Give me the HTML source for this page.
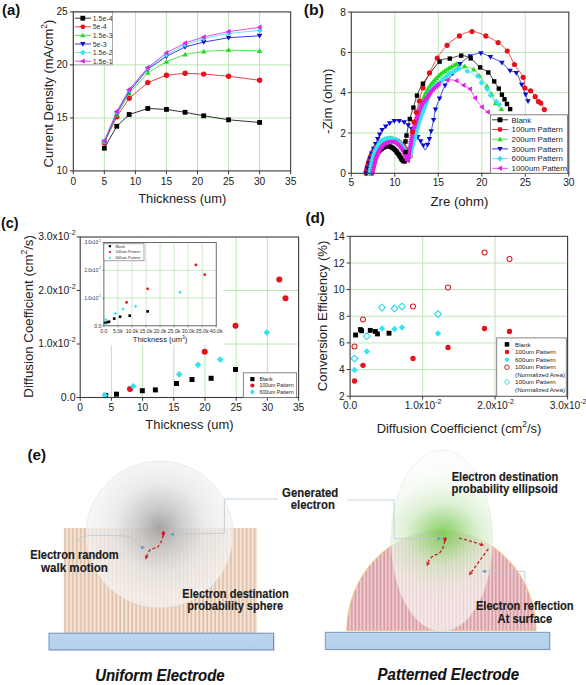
<!DOCTYPE html><html><head><meta charset="utf-8"><style>html,body{margin:0;padding:0;background:#fff;width:586px;height:685px;overflow:hidden}svg{display:block}</style></head><body>
<svg width="586" height="685" viewBox="0 0 586 685" font-family="Liberation Sans, sans-serif">
<rect width="586" height="685" fill="#fff"/>
<line x1="104.35" y1="11.90" x2="104.35" y2="170.90" stroke="#b6e3ae" stroke-width="0.9"/>
<line x1="135.40" y1="11.90" x2="135.40" y2="170.90" stroke="#b6e3ae" stroke-width="0.9"/>
<line x1="166.45" y1="11.90" x2="166.45" y2="170.90" stroke="#b6e3ae" stroke-width="0.9"/>
<line x1="197.50" y1="11.90" x2="197.50" y2="170.90" stroke="#b6e3ae" stroke-width="0.9"/>
<line x1="228.55" y1="11.90" x2="228.55" y2="170.90" stroke="#b6e3ae" stroke-width="0.9"/>
<line x1="259.60" y1="11.90" x2="259.60" y2="170.90" stroke="#b6e3ae" stroke-width="0.9"/>
<line x1="73.30" y1="117.90" x2="290.65" y2="117.90" stroke="#b6e3ae" stroke-width="0.9"/>
<line x1="73.30" y1="64.90" x2="290.65" y2="64.90" stroke="#b6e3ae" stroke-width="0.9"/>
<rect x="73.30" y="11.90" width="39.20" height="52.90" fill="#fff" stroke="#999" stroke-width="0.8"/>
<rect x="73.30" y="11.90" width="217.35" height="159.00" fill="none" stroke="#3a3a3a" stroke-width="1.1"/>
<line x1="69.80" y1="170.90" x2="73.30" y2="170.90" stroke="#3a3a3a" stroke-width="1"/>
<text x="67.80" y="174.40" font-size="10.2" text-anchor="end" fill="#222">10</text>
<line x1="69.80" y1="117.90" x2="73.30" y2="117.90" stroke="#3a3a3a" stroke-width="1"/>
<text x="67.80" y="121.40" font-size="10.2" text-anchor="end" fill="#222">15</text>
<line x1="69.80" y1="64.90" x2="73.30" y2="64.90" stroke="#3a3a3a" stroke-width="1"/>
<text x="67.80" y="68.40" font-size="10.2" text-anchor="end" fill="#222">20</text>
<line x1="69.80" y1="11.90" x2="73.30" y2="11.90" stroke="#3a3a3a" stroke-width="1"/>
<text x="67.80" y="15.40" font-size="10.2" text-anchor="end" fill="#222">25</text>
<line x1="73.30" y1="170.90" x2="73.30" y2="174.20" stroke="#3a3a3a" stroke-width="1"/>
<text x="73.30" y="184.90" font-size="10.2" text-anchor="middle" fill="#222">0</text>
<line x1="104.35" y1="170.90" x2="104.35" y2="174.20" stroke="#3a3a3a" stroke-width="1"/>
<text x="104.35" y="184.90" font-size="10.2" text-anchor="middle" fill="#222">5</text>
<line x1="135.40" y1="170.90" x2="135.40" y2="174.20" stroke="#3a3a3a" stroke-width="1"/>
<text x="135.40" y="184.90" font-size="10.2" text-anchor="middle" fill="#222">10</text>
<line x1="166.45" y1="170.90" x2="166.45" y2="174.20" stroke="#3a3a3a" stroke-width="1"/>
<text x="166.45" y="184.90" font-size="10.2" text-anchor="middle" fill="#222">15</text>
<line x1="197.50" y1="170.90" x2="197.50" y2="174.20" stroke="#3a3a3a" stroke-width="1"/>
<text x="197.50" y="184.90" font-size="10.2" text-anchor="middle" fill="#222">20</text>
<line x1="228.55" y1="170.90" x2="228.55" y2="174.20" stroke="#3a3a3a" stroke-width="1"/>
<text x="228.55" y="184.90" font-size="10.2" text-anchor="middle" fill="#222">25</text>
<line x1="259.60" y1="170.90" x2="259.60" y2="174.20" stroke="#3a3a3a" stroke-width="1"/>
<text x="259.60" y="184.90" font-size="10.2" text-anchor="middle" fill="#222">30</text>
<line x1="290.65" y1="170.90" x2="290.65" y2="174.20" stroke="#3a3a3a" stroke-width="1"/>
<text x="290.65" y="184.90" font-size="10.2" text-anchor="middle" fill="#222">35</text>
<text x="182.20" y="203.40" font-size="12.9" text-anchor="middle" fill="#222">Thickness (um)</text>
<g transform="translate(53.3,93.6) rotate(-90)"><text x="0.00" y="0.00" font-size="13.0" text-anchor="middle" fill="#222">Current Density (mA/cm<tspan font-size="8.4" dy="-6">2</tspan><tspan dy="6">)</tspan></text></g>
<text x="2.00" y="14.80" font-size="14.2" font-weight="bold" fill="#111" textLength="18.2" lengthAdjust="spacingAndGlyphs">(a)</text>
<polyline points="104.35,148.22 116.77,126.27 129.19,114.51 147.82,108.47 166.45,109.42 185.08,112.28 203.71,115.78 228.55,119.81 259.60,122.46" fill="none" stroke="#000000" stroke-width="0.8"/>
<rect x="101.95" y="145.82" width="4.80" height="4.80" fill="#000000"/>
<rect x="114.37" y="123.87" width="4.80" height="4.80" fill="#000000"/>
<rect x="126.79" y="112.11" width="4.80" height="4.80" fill="#000000"/>
<rect x="145.42" y="106.07" width="4.80" height="4.80" fill="#000000"/>
<rect x="164.05" y="107.02" width="4.80" height="4.80" fill="#000000"/>
<rect x="182.68" y="109.88" width="4.80" height="4.80" fill="#000000"/>
<rect x="201.31" y="113.38" width="4.80" height="4.80" fill="#000000"/>
<rect x="226.15" y="117.41" width="4.80" height="4.80" fill="#000000"/>
<rect x="257.20" y="120.06" width="4.80" height="4.80" fill="#000000"/>
<polyline points="104.35,142.70 116.77,116.73 129.19,98.29 147.82,82.60 166.45,75.18 185.08,73.27 203.71,74.12 228.55,76.24 259.60,80.27" fill="none" stroke="#e5111b" stroke-width="0.8"/>
<circle cx="104.35" cy="142.70" r="2.70" fill="#e5111b"/>
<circle cx="116.77" cy="116.73" r="2.70" fill="#e5111b"/>
<circle cx="129.19" cy="98.29" r="2.70" fill="#e5111b"/>
<circle cx="147.82" cy="82.60" r="2.70" fill="#e5111b"/>
<circle cx="166.45" cy="75.18" r="2.70" fill="#e5111b"/>
<circle cx="185.08" cy="73.27" r="2.70" fill="#e5111b"/>
<circle cx="203.71" cy="74.12" r="2.70" fill="#e5111b"/>
<circle cx="228.55" cy="76.24" r="2.70" fill="#e5111b"/>
<circle cx="259.60" cy="80.27" r="2.70" fill="#e5111b"/>
<polyline points="104.35,142.07 116.77,114.72 129.19,93.52 147.82,72.85 166.45,61.72 185.08,54.41 203.71,51.44 228.55,50.06 259.60,50.91" fill="none" stroke="#22dd22" stroke-width="0.8"/>
<path d="M104.35 139.32L107.10 144.07L101.60 144.07Z" fill="#22dd22"/>
<path d="M116.77 111.97L119.52 116.72L114.02 116.72Z" fill="#22dd22"/>
<path d="M129.19 90.77L131.94 95.52L126.44 95.52Z" fill="#22dd22"/>
<path d="M147.82 70.10L150.57 74.85L145.07 74.85Z" fill="#22dd22"/>
<path d="M166.45 58.97L169.20 63.72L163.70 63.72Z" fill="#22dd22"/>
<path d="M185.08 51.66L187.83 56.41L182.33 56.41Z" fill="#22dd22"/>
<path d="M203.71 48.69L206.46 53.44L200.96 53.44Z" fill="#22dd22"/>
<path d="M228.55 47.31L231.30 52.06L225.80 52.06Z" fill="#22dd22"/>
<path d="M259.60 48.16L262.35 52.91L256.85 52.91Z" fill="#22dd22"/>
<polyline points="104.35,141.75 116.77,113.13 129.19,91.40 147.82,69.14 166.45,56.42 185.08,46.99 203.71,42.11 228.55,37.76 259.60,35.75" fill="none" stroke="#0a0ad0" stroke-width="0.8"/>
<path d="M104.35 144.50L107.10 139.75L101.60 139.75Z" fill="#0a0ad0"/>
<path d="M116.77 115.88L119.52 111.13L114.02 111.13Z" fill="#0a0ad0"/>
<path d="M129.19 94.15L131.94 89.40L126.44 89.40Z" fill="#0a0ad0"/>
<path d="M147.82 71.89L150.57 67.14L145.07 67.14Z" fill="#0a0ad0"/>
<path d="M166.45 59.17L169.20 54.42L163.70 54.42Z" fill="#0a0ad0"/>
<path d="M185.08 49.74L187.83 44.99L182.33 44.99Z" fill="#0a0ad0"/>
<path d="M203.71 44.86L206.46 40.11L200.96 40.11Z" fill="#0a0ad0"/>
<path d="M228.55 40.51L231.30 35.76L225.80 35.76Z" fill="#0a0ad0"/>
<path d="M259.60 38.50L262.35 33.75L256.85 33.75Z" fill="#0a0ad0"/>
<polyline points="104.35,141.22 116.77,112.07 129.19,90.13 147.82,68.08 166.45,54.83 185.08,44.76 203.71,38.61 228.55,33.42 259.60,30.45" fill="none" stroke="#33e3ef" stroke-width="0.8"/>
<path d="M104.35 138.34L107.23 141.22L104.35 144.10L101.47 141.22Z" fill="#33e3ef"/>
<path d="M116.77 109.19L119.65 112.07L116.77 114.95L113.89 112.07Z" fill="#33e3ef"/>
<path d="M129.19 87.25L132.07 90.13L129.19 93.01L126.31 90.13Z" fill="#33e3ef"/>
<path d="M147.82 65.20L150.70 68.08L147.82 70.96L144.94 68.08Z" fill="#33e3ef"/>
<path d="M166.45 51.95L169.33 54.83L166.45 57.71L163.57 54.83Z" fill="#33e3ef"/>
<path d="M185.08 41.88L187.96 44.76L185.08 47.64L182.20 44.76Z" fill="#33e3ef"/>
<path d="M203.71 35.73L206.59 38.61L203.71 41.49L200.83 38.61Z" fill="#33e3ef"/>
<path d="M228.55 30.54L231.43 33.42L228.55 36.30L225.67 33.42Z" fill="#33e3ef"/>
<path d="M259.60 27.57L262.48 30.45L259.60 33.33L256.72 30.45Z" fill="#33e3ef"/>
<polyline points="104.35,141.11 116.77,111.43 129.19,89.49 147.82,67.55 166.45,52.71 185.08,43.06 203.71,36.92 228.55,31.62 259.60,27.27" fill="none" stroke="#e020e8" stroke-width="0.8"/>
<path d="M101.60 141.11L106.35 138.36L106.35 143.86Z" fill="#e020e8"/>
<path d="M114.02 111.43L118.77 108.68L118.77 114.18Z" fill="#e020e8"/>
<path d="M126.44 89.49L131.19 86.74L131.19 92.24Z" fill="#e020e8"/>
<path d="M145.07 67.55L149.82 64.80L149.82 70.30Z" fill="#e020e8"/>
<path d="M163.70 52.71L168.45 49.96L168.45 55.46Z" fill="#e020e8"/>
<path d="M182.33 43.06L187.08 40.31L187.08 45.81Z" fill="#e020e8"/>
<path d="M200.96 36.92L205.71 34.17L205.71 39.67Z" fill="#e020e8"/>
<path d="M225.80 31.62L230.55 28.87L230.55 34.37Z" fill="#e020e8"/>
<path d="M256.85 27.27L261.60 24.52L261.60 30.02Z" fill="#e020e8"/>
<line x1="74.9" y1="18.20" x2="91" y2="18.20" stroke="#000000" stroke-width="0.8"/>
<rect x="80.40" y="15.80" width="4.80" height="4.80" fill="#000000"/>
<text x="92.70" y="20.70" font-size="7.0" fill="#333">1.5e-4</text>
<line x1="74.9" y1="26.80" x2="91" y2="26.80" stroke="#e5111b" stroke-width="0.8"/>
<circle cx="82.80" cy="26.80" r="2.40" fill="#e5111b"/>
<text x="92.70" y="29.30" font-size="7.0" fill="#333">5e-4</text>
<line x1="74.9" y1="35.40" x2="91" y2="35.40" stroke="#22dd22" stroke-width="0.8"/>
<path d="M82.80 32.76L85.44 37.32L80.16 37.32Z" fill="#22dd22"/>
<text x="92.70" y="37.90" font-size="7.0" fill="#333">1.5e-3</text>
<line x1="74.9" y1="44.00" x2="91" y2="44.00" stroke="#0a0ad0" stroke-width="0.8"/>
<path d="M82.80 46.64L85.44 42.08L80.16 42.08Z" fill="#0a0ad0"/>
<text x="92.70" y="46.50" font-size="7.0" fill="#333">5e-3</text>
<line x1="74.9" y1="52.60" x2="91" y2="52.60" stroke="#33e3ef" stroke-width="0.8"/>
<path d="M82.80 49.72L85.68 52.60L82.80 55.48L79.92 52.60Z" fill="#33e3ef"/>
<text x="92.70" y="55.10" font-size="7.0" fill="#333">1.5e-2</text>
<line x1="74.9" y1="61.20" x2="91" y2="61.20" stroke="#e020e8" stroke-width="0.8"/>
<path d="M80.16 61.20L84.72 58.56L84.72 63.84Z" fill="#e020e8"/>
<text x="92.70" y="63.70" font-size="7.0" fill="#333">1.5e-1</text>
<line x1="394.80" y1="12.10" x2="394.80" y2="173.30" stroke="#b6e3ae" stroke-width="0.9"/>
<line x1="438.30" y1="12.10" x2="438.30" y2="173.30" stroke="#b6e3ae" stroke-width="0.9"/>
<line x1="481.80" y1="12.10" x2="481.80" y2="173.30" stroke="#b6e3ae" stroke-width="0.9"/>
<line x1="525.30" y1="12.10" x2="525.30" y2="173.30" stroke="#b6e3ae" stroke-width="0.9"/>
<line x1="351.30" y1="133.00" x2="568.80" y2="133.00" stroke="#b6e3ae" stroke-width="0.9"/>
<line x1="351.30" y1="92.70" x2="568.80" y2="92.70" stroke="#b6e3ae" stroke-width="0.9"/>
<line x1="351.30" y1="52.40" x2="568.80" y2="52.40" stroke="#b6e3ae" stroke-width="0.9"/>
<line x1="347.80" y1="173.30" x2="351.30" y2="173.30" stroke="#3a3a3a" stroke-width="1"/>
<text x="345.80" y="176.80" font-size="10.2" text-anchor="end" fill="#222">0</text>
<line x1="347.80" y1="133.00" x2="351.30" y2="133.00" stroke="#3a3a3a" stroke-width="1"/>
<text x="345.80" y="136.50" font-size="10.2" text-anchor="end" fill="#222">2</text>
<line x1="347.80" y1="92.70" x2="351.30" y2="92.70" stroke="#3a3a3a" stroke-width="1"/>
<text x="345.80" y="96.20" font-size="10.2" text-anchor="end" fill="#222">4</text>
<line x1="347.80" y1="52.40" x2="351.30" y2="52.40" stroke="#3a3a3a" stroke-width="1"/>
<text x="345.80" y="55.90" font-size="10.2" text-anchor="end" fill="#222">6</text>
<line x1="347.80" y1="12.10" x2="351.30" y2="12.10" stroke="#3a3a3a" stroke-width="1"/>
<text x="345.80" y="15.60" font-size="10.2" text-anchor="end" fill="#222">8</text>
<line x1="351.30" y1="173.30" x2="351.30" y2="176.60" stroke="#3a3a3a" stroke-width="1"/>
<text x="351.30" y="185.90" font-size="10.2" text-anchor="middle" fill="#222">5</text>
<line x1="394.80" y1="173.30" x2="394.80" y2="176.60" stroke="#3a3a3a" stroke-width="1"/>
<text x="394.80" y="185.90" font-size="10.2" text-anchor="middle" fill="#222">10</text>
<line x1="438.30" y1="173.30" x2="438.30" y2="176.60" stroke="#3a3a3a" stroke-width="1"/>
<text x="438.30" y="185.90" font-size="10.2" text-anchor="middle" fill="#222">15</text>
<line x1="481.80" y1="173.30" x2="481.80" y2="176.60" stroke="#3a3a3a" stroke-width="1"/>
<text x="481.80" y="185.90" font-size="10.2" text-anchor="middle" fill="#222">20</text>
<line x1="525.30" y1="173.30" x2="525.30" y2="176.60" stroke="#3a3a3a" stroke-width="1"/>
<text x="525.30" y="185.90" font-size="10.2" text-anchor="middle" fill="#222">25</text>
<line x1="568.80" y1="173.30" x2="568.80" y2="176.60" stroke="#3a3a3a" stroke-width="1"/>
<text x="568.80" y="185.90" font-size="10.2" text-anchor="middle" fill="#222">30</text>
<text x="459.40" y="205.50" font-size="13.2" text-anchor="middle" fill="#222">Zre (ohm)</text>
<g transform="translate(331.9,101.3) rotate(-90)"><text x="0.00" y="0.00" font-size="13.4" text-anchor="middle" fill="#222">-Zim (ohm)</text></g>
<text x="303.80" y="14.60" font-size="14.2" font-weight="bold" fill="#111" textLength="20.2" lengthAdjust="spacingAndGlyphs">(b)</text>
<g>
<polyline points="369.00,173.30 369.12,172.75 369.27,172.06 369.44,171.24 369.63,170.32 369.84,169.33 370.06,168.28 370.30,167.19 370.54,166.09 370.78,165.00 371.03,163.94 371.27,162.93 371.50,162.00 371.73,161.12 371.95,160.25 372.17,159.39 372.39,158.53 372.61,157.69 372.84,156.86 373.08,156.03 373.33,155.21 373.60,154.40 373.88,153.59 374.18,152.79 374.50,152.00 374.84,151.20 375.20,150.39 375.57,149.57 375.96,148.76 376.37,147.95 376.78,147.16 377.21,146.38 377.65,145.63 378.10,144.91 378.56,144.23 379.02,143.59 379.50,143.00 379.99,142.45 380.49,141.94 381.01,141.45 381.54,141.00 382.08,140.58 382.62,140.19 383.18,139.83 383.74,139.50 384.30,139.20 384.87,138.94 385.44,138.70 386.00,138.50 386.57,138.33 387.14,138.19 387.71,138.09 388.30,138.02 388.88,137.98 389.47,137.97 390.06,137.99 390.65,138.04 391.24,138.11 391.83,138.22 392.42,138.35 393.00,138.50 393.59,138.68 394.19,138.90 394.80,139.15 395.41,139.43 396.02,139.73 396.62,140.06 397.23,140.42 397.81,140.80 398.39,141.20 398.95,141.61 399.49,142.05 400.00,142.50 400.49,142.98 400.96,143.49 401.41,144.03 401.85,144.59 402.28,145.18 402.69,145.78 403.09,146.40 403.48,147.02 403.87,147.64 404.25,148.27 404.62,148.89 405.00,149.50 405.38,150.15 405.76,150.89 406.14,151.68 406.52,152.50 406.89,153.32 407.25,154.12 407.60,154.88 407.93,155.56 408.23,156.13 408.52,156.58 408.77,156.88 409.00,157.00 409.19,156.93 409.33,156.68 409.44,156.29 409.52,155.78 409.58,155.16 409.62,154.47 409.66,153.72 409.70,152.94 409.75,152.16 409.81,151.39 409.89,150.66 410.00,150.00 410.13,149.37 410.28,148.75 410.43,148.12 410.59,147.48 410.76,146.84 410.94,146.19 411.12,145.53 411.30,144.85 411.48,144.16 411.66,143.46 411.83,142.74 412.00,142.00 412.17,141.24 412.33,140.46 412.49,139.66 412.65,138.85 412.81,138.03 412.97,137.19 413.13,136.34 413.30,135.48 413.46,134.62 413.64,133.75 413.82,132.87 414.00,132.00 414.19,131.12 414.38,130.22 414.58,129.32 414.78,128.41 414.98,127.49 415.19,126.56 415.40,125.63 415.61,124.70 415.83,123.77 416.05,122.84 416.27,121.92 416.50,121.00 416.73,120.09 416.96,119.18 417.19,118.27 417.43,117.37 417.66,116.47 417.91,115.56 418.15,114.65 418.41,113.74 418.67,112.82 418.94,111.89 419.21,110.95 419.50,110.00 419.79,109.03 420.09,108.04 420.40,107.04 420.71,106.03 421.02,105.01 421.35,103.98 421.68,102.96 422.03,101.94 422.38,100.93 422.74,99.94 423.11,98.96 423.50,98.00 423.89,97.06 424.28,96.14 424.68,95.22 425.09,94.32 425.50,93.42 425.93,92.54 426.37,91.66 426.83,90.78 427.31,89.91 427.81,89.04 428.34,88.17 428.90,87.30 429.49,86.42 430.12,85.54 430.78,84.64 431.46,83.75 432.16,82.86 432.88,81.98 433.61,81.11 434.35,80.26 435.09,79.43 435.84,78.62 436.57,77.84 437.30,77.10 438.02,76.39 438.74,75.71 439.46,75.06 440.18,74.43 440.91,73.82 441.64,73.23 442.37,72.66 443.12,72.09 443.87,71.54 444.64,70.99 445.41,70.44 446.20,69.90 447.01,69.34 447.85,68.75 448.70,68.14 449.57,67.53 450.45,66.93 451.34,66.36 452.22,65.81 453.09,65.31 453.95,64.87 454.79,64.49 455.61,64.20 456.40,64.00 457.16,63.90 457.89,63.90 458.59,63.98 459.28,64.13 459.96,64.34 460.62,64.59 461.29,64.87 461.95,65.17 462.62,65.48 463.30,65.78 463.99,66.05 464.70,66.30 465.44,66.52 466.20,66.73 466.98,66.94 467.77,67.15 468.57,67.37 469.36,67.59 470.15,67.83 470.92,68.09 471.67,68.37 472.38,68.68 473.06,69.02 473.70,69.40 474.28,69.81 474.82,70.23 475.31,70.68 475.77,71.15 476.21,71.64 476.64,72.16 477.06,72.70 477.48,73.26 477.92,73.86 478.38,74.48 478.87,75.12 479.40,75.80 479.98,76.52 480.59,77.30 481.23,78.13 481.90,78.99 482.58,79.88 483.26,80.79 483.94,81.70 484.61,82.61 485.26,83.50 485.88,84.37 486.46,85.21 487.00,86.00 487.50,86.75 487.96,87.47 488.40,88.17 488.81,88.85 489.21,89.52 489.59,90.17 489.95,90.83 490.31,91.48 490.66,92.14 491.00,92.81 491.35,93.50 491.70,94.20 492.04,94.93 492.36,95.69 492.66,96.47 492.96,97.26 493.24,98.05 493.52,98.84 493.81,99.63 494.11,100.40 494.42,101.15 494.76,101.87 495.11,102.56 495.50,103.20 495.94,103.82 496.43,104.43 496.97,105.03 497.53,105.61 498.11,106.18 498.69,106.71 499.25,107.22 499.79,107.69 500.29,108.11 500.73,108.49 501.11,108.82 501.40,109.10" fill="none" stroke="#22dd22" stroke-width="0.8"/>
<polyline points="366.00,173.30 366.12,172.80 366.26,172.18 366.42,171.44 366.60,170.62 366.80,169.72 367.01,168.78 367.24,167.79 367.48,166.79 367.72,165.80 367.98,164.82 368.24,163.88 368.50,163.00 368.77,162.15 369.04,161.29 369.33,160.43 369.62,159.57 369.92,158.71 370.23,157.86 370.55,157.01 370.88,156.17 371.22,155.35 371.57,154.55 371.93,153.76 372.30,153.00 372.68,152.25 373.07,151.51 373.47,150.78 373.88,150.06 374.30,149.35 374.73,148.66 375.17,147.98 375.62,147.33 376.08,146.71 376.54,146.11 377.02,145.54 377.50,145.00 377.99,144.49 378.49,144.01 379.00,143.55 379.51,143.11 380.04,142.70 380.57,142.31 381.12,141.95 381.67,141.61 382.24,141.30 382.81,141.01 383.40,140.74 384.00,140.50 384.62,140.28 385.26,140.09 385.92,139.92 386.59,139.78 387.28,139.66 387.97,139.56 388.66,139.49 389.35,139.44 390.04,139.42 390.71,139.42 391.36,139.45 392.00,139.50 392.62,139.57 393.24,139.67 393.86,139.80 394.46,139.94 395.06,140.12 395.66,140.31 396.24,140.53 396.81,140.78 397.38,141.05 397.93,141.34 398.47,141.66 399.00,142.00 399.52,142.38 400.02,142.80 400.52,143.25 401.00,143.74 401.47,144.25 401.94,144.78 402.39,145.32 402.83,145.87 403.27,146.42 403.69,146.96 404.10,147.49 404.50,148.00 404.89,148.51 405.28,149.03 405.65,149.57 406.02,150.11 406.37,150.65 406.72,151.19 407.05,151.71 407.37,152.22 407.68,152.71 407.97,153.17 408.24,153.61 408.50,154.00 408.74,154.44 408.95,155.00 409.14,155.62 409.31,156.26 409.48,156.88 409.62,157.44 409.77,157.89 409.91,158.19 410.05,158.29 410.19,158.16 410.34,157.74 410.50,157.00 410.67,155.85 410.84,154.28 411.01,152.37 411.19,150.19 411.36,147.81 411.53,145.31 411.70,142.77 411.87,140.26 412.04,137.85 412.20,135.62 412.35,133.65 412.50,132.00 412.64,130.64 412.77,129.46 412.89,128.44 413.01,127.54 413.12,126.75 413.23,126.04 413.34,125.39 413.46,124.76 413.58,124.13 413.71,123.48 413.85,122.78 414.00,122.00 414.16,121.19 414.33,120.38 414.50,119.59 414.68,118.80 414.87,118.02 415.06,117.23 415.25,116.44 415.45,115.64 415.66,114.83 415.87,114.01 416.08,113.16 416.30,112.30 416.52,111.42 416.75,110.53 416.99,109.63 417.23,108.72 417.47,107.80 417.72,106.86 417.97,105.92 418.23,104.96 418.49,103.99 418.76,103.01 419.03,102.01 419.30,101.00 419.57,99.98 419.83,98.94 420.09,97.90 420.34,96.84 420.61,95.77 420.88,94.68 421.16,93.58 421.46,92.47 421.78,91.35 422.12,90.21 422.49,89.06 422.90,87.90 423.34,86.72 423.81,85.51 424.31,84.28 424.83,83.04 425.38,81.78 425.94,80.51 426.51,79.24 427.10,77.96 427.70,76.69 428.30,75.42 428.90,74.15 429.50,72.90 430.10,71.65 430.71,70.39 431.32,69.12 431.94,67.84 432.56,66.57 433.20,65.31 433.85,64.05 434.51,62.80 435.18,61.57 435.87,60.35 436.58,59.16 437.30,58.00 438.04,56.85 438.79,55.72 439.55,54.59 440.33,53.48 441.11,52.39 441.92,51.31 442.74,50.25 443.57,49.21 444.43,48.19 445.30,47.20 446.19,46.24 447.10,45.30 448.04,44.39 449.00,43.48 449.99,42.60 451.00,41.74 452.03,40.90 453.07,40.08 454.13,39.30 455.19,38.54 456.25,37.82 457.30,37.14 458.36,36.50 459.40,35.90 460.44,35.33 461.47,34.78 462.50,34.24 463.53,33.74 464.57,33.27 465.61,32.84 466.65,32.46 467.70,32.13 468.76,31.86 469.83,31.67 470.91,31.54 472.00,31.50 473.11,31.55 474.25,31.70 475.40,31.93 476.57,32.23 477.74,32.59 478.92,33.01 480.10,33.46 481.27,33.94 482.43,34.43 483.57,34.93 484.70,35.42 485.80,35.90 486.89,36.37 487.97,36.86 489.05,37.37 490.13,37.90 491.19,38.44 492.24,39.00 493.27,39.57 494.29,40.16 495.28,40.75 496.25,41.36 497.19,41.97 498.10,42.60 498.98,43.22 499.84,43.84 500.66,44.46 501.47,45.09 502.25,45.72 503.02,46.38 503.77,47.05 504.50,47.76 505.21,48.50 505.92,49.29 506.61,50.12 507.30,51.00 507.97,51.95 508.60,52.96 509.21,54.03 509.79,55.15 510.37,56.30 510.93,57.48 511.49,58.67 512.06,59.86 512.64,61.05 513.24,62.23 513.85,63.38 514.50,64.50 515.19,65.60 515.94,66.70 516.73,67.80 517.55,68.90 518.37,69.99 519.19,71.07 520.00,72.15 520.76,73.21 521.48,74.26 522.14,75.30 522.72,76.31 523.20,77.30 523.57,78.29 523.84,79.30 524.02,80.31 524.14,81.31 524.20,82.31 524.24,83.28 524.26,84.21 524.30,85.10 524.36,85.93 524.47,86.70 524.64,87.39 524.90,88.00 525.24,88.50 525.63,88.89 526.07,89.18 526.54,89.40 527.05,89.57 527.57,89.70 528.10,89.81 528.63,89.93 529.16,90.07 529.67,90.25 530.15,90.48 530.60,90.80 531.03,91.19 531.45,91.62 531.86,92.08 532.27,92.58 532.67,93.09 533.06,93.62 533.44,94.16 533.81,94.70 534.17,95.23 534.53,95.74 534.87,96.24 535.20,96.70 535.52,97.15 535.82,97.60 536.12,98.05 536.40,98.50 536.67,98.94 536.94,99.37 537.19,99.78 537.44,100.18 537.69,100.55 537.93,100.90 538.17,101.22 538.40,101.50 538.62,101.73 538.83,101.90 539.03,102.01 539.21,102.09 539.40,102.15 539.57,102.19 539.76,102.25 539.94,102.32 540.13,102.43 540.34,102.59 540.56,102.81 540.80,103.10 541.07,103.49 541.37,103.97 541.70,104.53 542.04,105.14 542.40,105.79 542.75,106.45 543.09,107.10 543.42,107.73 543.73,108.32 543.99,108.84 544.22,109.27 544.40,109.60" fill="none" stroke="#e5111b" stroke-width="0.8"/>
<polyline points="371.00,173.30 371.12,172.80 371.26,172.16 371.43,171.42 371.61,170.58 371.81,169.67 372.03,168.71 372.26,167.72 372.50,166.72 372.75,165.73 373.00,164.76 373.25,163.85 373.50,163.00 373.75,162.19 374.01,161.38 374.27,160.58 374.54,159.77 374.81,158.98 375.09,158.20 375.38,157.44 375.69,156.69 376.00,155.97 376.32,155.28 376.65,154.62 377.00,154.00 377.36,153.41 377.73,152.85 378.12,152.31 378.52,151.80 378.93,151.31 379.34,150.84 379.77,150.40 380.20,149.98 380.64,149.58 381.09,149.20 381.54,148.84 382.00,148.50 382.46,148.17 382.94,147.85 383.43,147.54 383.93,147.24 384.43,146.97 384.94,146.72 385.45,146.50 385.96,146.31 386.48,146.17 386.99,146.06 387.50,146.01 388.00,146.00 388.50,146.05 389.01,146.15 389.52,146.29 390.04,146.48 390.55,146.71 391.06,146.97 391.57,147.26 392.07,147.57 392.57,147.91 393.06,148.26 393.54,148.63 394.00,149.00 394.46,149.40 394.91,149.83 395.36,150.30 395.80,150.80 396.23,151.31 396.66,151.84 397.07,152.38 397.48,152.93 397.88,153.46 398.27,153.99 398.64,154.51 399.00,155.00 399.35,155.49 399.68,156.00 400.00,156.52 400.31,157.04 400.62,157.55 400.91,158.06 401.19,158.55 401.46,159.02 401.73,159.45 401.99,159.85 402.25,160.20 402.50,160.50 402.75,160.77 403.00,161.05 403.24,161.31 403.48,161.56 403.71,161.77 403.94,161.94 404.15,162.06 404.35,162.11 404.54,162.09 404.71,161.99 404.86,161.80 405.00,161.50 405.11,161.08 405.20,160.54 405.28,159.89 405.33,159.15 405.38,158.34 405.41,157.47 405.43,156.56 405.44,155.63 405.46,154.69 405.47,153.76 405.48,152.86 405.50,152.00 405.51,151.15 405.52,150.26 405.51,149.34 405.50,148.41 405.48,147.47 405.47,146.53 405.45,145.61 405.44,144.70 405.44,143.83 405.45,143.00 405.47,142.22 405.50,141.50 405.54,140.88 405.58,140.36 405.63,139.93 405.67,139.56 405.73,139.21 405.79,138.88 405.87,138.52 405.96,138.11 406.06,137.63 406.19,137.06 406.33,136.35 406.50,135.50 406.69,134.48 406.91,133.30 407.16,131.99 407.42,130.59 407.70,129.11 407.99,127.59 408.29,126.05 408.59,124.51 408.90,123.01 409.21,121.58 409.51,120.23 409.80,119.00 410.09,117.87 410.38,116.81 410.68,115.81 410.98,114.84 411.28,113.92 411.58,113.02 411.88,112.13 412.19,111.26 412.49,110.37 412.80,109.48 413.10,108.55 413.40,107.60 413.69,106.62 413.97,105.63 414.25,104.64 414.51,103.64 414.78,102.64 415.06,101.63 415.34,100.62 415.63,99.61 415.94,98.61 416.27,97.60 416.62,96.60 417.00,95.60 417.38,94.64 417.73,93.73 418.06,92.86 418.40,92.00 418.75,91.15 419.13,90.28 419.56,89.38 420.05,88.42 420.61,87.39 421.27,86.27 422.02,85.05 422.90,83.70 423.93,82.15 425.13,80.39 426.47,78.44 427.91,76.38 429.42,74.25 430.98,72.09 432.56,69.97 434.11,67.93 435.63,66.02 437.07,64.30 438.40,62.81 439.60,61.60 440.67,60.68 441.66,59.99 442.58,59.51 443.44,59.19 444.25,59.00 445.03,58.91 445.79,58.88 446.55,58.89 447.32,58.90 448.11,58.88 448.93,58.79 449.80,58.60 450.71,58.33 451.65,58.03 452.61,57.71 453.58,57.39 454.56,57.06 455.54,56.74 456.52,56.44 457.50,56.17 458.46,55.94 459.40,55.76 460.31,55.65 461.20,55.60 462.06,55.61 462.89,55.66 463.71,55.75 464.51,55.87 465.30,56.04 466.07,56.25 466.84,56.50 467.61,56.79 468.38,57.13 469.14,57.51 469.92,57.93 470.70,58.40 471.49,58.95 472.29,59.59 473.09,60.31 473.89,61.09 474.68,61.91 475.48,62.76 476.27,63.61 477.06,64.46 477.84,65.28 478.60,66.05 479.36,66.77 480.10,67.40 480.83,67.95 481.56,68.43 482.29,68.86 483.01,69.25 483.72,69.61 484.42,69.96 485.11,70.30 485.78,70.66 486.44,71.05 487.08,71.48 487.70,71.95 488.30,72.50 488.88,73.11 489.43,73.78 489.97,74.50 490.49,75.25 490.99,76.03 491.47,76.82 491.95,77.62 492.41,78.42 492.87,79.21 493.32,79.97 493.76,80.71 494.20,81.40 494.63,82.06 495.06,82.71 495.48,83.35 495.89,83.97 496.28,84.58 496.68,85.18 497.06,85.76 497.43,86.34 497.79,86.92 498.14,87.48 498.47,88.04 498.80,88.60 499.11,89.15 499.41,89.70 499.69,90.24 499.96,90.77 500.22,91.30 500.48,91.81 500.72,92.32 500.96,92.82 501.20,93.31 501.43,93.78 501.66,94.25 501.90,94.70 502.13,95.14 502.36,95.55 502.59,95.95 502.81,96.34 503.02,96.72 503.24,97.09 503.45,97.45 503.66,97.81 503.87,98.18 504.08,98.54 504.29,98.92 504.50,99.30 504.71,99.69 504.92,100.07 505.12,100.46 505.32,100.84 505.52,101.23 505.72,101.62 505.92,102.01 506.13,102.40 506.34,102.79 506.55,103.19 506.77,103.59 507.00,104.00 507.25,104.43 507.52,104.89 507.81,105.37 508.10,105.86 508.41,106.35 508.71,106.84 509.00,107.32 509.27,107.76 509.53,108.17 509.76,108.54 509.95,108.85 510.10,109.10" fill="none" stroke="#000000" stroke-width="0.8"/>
<polyline points="366.20,173.30 366.30,172.90 366.42,172.41 366.56,171.83 366.72,171.17 366.90,170.47 367.08,169.71 367.28,168.93 367.48,168.13 367.68,167.32 367.89,166.52 368.10,165.74 368.30,165.00 368.50,164.27 368.71,163.53 368.93,162.78 369.14,162.01 369.37,161.25 369.59,160.48 369.82,159.71 370.06,158.95 370.29,158.20 370.53,157.45 370.76,156.72 371.00,156.00 371.24,155.30 371.48,154.61 371.72,153.92 371.97,153.25 372.22,152.58 372.47,151.92 372.72,151.26 372.97,150.61 373.23,149.96 373.48,149.30 373.74,148.65 374.00,148.00 374.26,147.35 374.51,146.72 374.76,146.09 375.01,145.47 375.26,144.85 375.52,144.23 375.78,143.61 376.04,142.97 376.32,142.33 376.60,141.67 376.89,141.00 377.20,140.30 377.52,139.57 377.84,138.80 378.18,137.99 378.52,137.17 378.87,136.33 379.23,135.49 379.60,134.67 379.97,133.86 380.34,133.07 380.72,132.33 381.11,131.64 381.50,131.00 381.90,130.42 382.30,129.88 382.72,129.38 383.14,128.91 383.57,128.47 384.00,128.05 384.43,127.65 384.87,127.27 385.31,126.90 385.74,126.53 386.17,126.17 386.60,125.80 387.03,125.43 387.45,125.07 387.88,124.72 388.30,124.37 388.73,124.04 389.15,123.71 389.58,123.40 390.00,123.11 390.43,122.83 390.85,122.57 391.28,122.32 391.70,122.10 392.12,121.90 392.55,121.71 392.97,121.53 393.40,121.38 393.82,121.24 394.25,121.11 394.68,121.00 395.10,120.91 395.52,120.83 395.95,120.77 396.37,120.73 396.80,120.70 397.23,120.69 397.66,120.71 398.09,120.74 398.53,120.80 398.97,120.87 399.40,120.96 399.83,121.05 400.26,121.16 400.68,121.26 401.10,121.38 401.50,121.49 401.90,121.60 402.29,121.71 402.67,121.82 403.05,121.93 403.43,122.04 403.79,122.17 404.16,122.29 404.51,122.43 404.86,122.58 405.21,122.74 405.54,122.91 405.88,123.10 406.20,123.30 406.51,123.52 406.81,123.76 407.10,124.01 407.38,124.27 407.66,124.55 407.92,124.84 408.19,125.13 408.46,125.44 408.74,125.75 409.01,126.06 409.30,126.38 409.60,126.70 409.90,127.02 410.21,127.33 410.52,127.65 410.83,127.97 411.14,128.29 411.46,128.62 411.79,128.97 412.11,129.33 412.45,129.71 412.79,130.12 413.14,130.54 413.50,131.00 413.87,131.49 414.25,132.02 414.65,132.58 415.06,133.17 415.47,133.78 415.88,134.39 416.30,135.02 416.71,135.64 417.12,136.26 417.52,136.86 417.92,137.44 418.30,138.00 418.68,138.54 419.05,139.06 419.43,139.57 419.80,140.07 420.17,140.57 420.54,141.06 420.89,141.55 421.24,142.04 421.58,142.52 421.90,143.01 422.21,143.50 422.50,144.00 422.77,144.54 423.03,145.13 423.26,145.76 423.49,146.41 423.70,147.07 423.91,147.70 424.10,148.29 424.30,148.83 424.49,149.29 424.69,149.65 424.89,149.89 425.10,150.00 425.31,149.96 425.53,149.79 425.75,149.50 425.97,149.12 426.18,148.66 426.40,148.14 426.61,147.58 426.82,147.00 427.03,146.41 427.23,145.84 427.42,145.29 427.60,144.80 427.77,144.34 427.94,143.88 428.10,143.42 428.26,142.95 428.40,142.48 428.55,142.01 428.69,141.52 428.83,141.03 428.97,140.52 429.11,140.00 429.26,139.46 429.40,138.90 429.54,138.33 429.68,137.76 429.81,137.18 429.94,136.59 430.07,135.99 430.21,135.38 430.34,134.74 430.48,134.09 430.62,133.41 430.77,132.70 430.93,131.97 431.10,131.20 431.28,130.39 431.48,129.54 431.68,128.65 431.90,127.74 432.12,126.80 432.34,125.84 432.56,124.87 432.78,123.90 433.00,122.93 433.21,121.97 433.41,121.02 433.60,120.10 433.77,119.19 433.93,118.29 434.07,117.40 434.20,116.51 434.32,115.62 434.45,114.73 434.58,113.85 434.73,112.96 434.88,112.07 435.06,111.18 435.27,110.29 435.50,109.40 435.76,108.51 436.04,107.63 436.34,106.76 436.66,105.89 436.99,105.02 437.33,104.15 437.69,103.27 438.06,102.37 438.43,101.46 438.82,100.53 439.21,99.58 439.60,98.60 440.00,97.59 440.40,96.54 440.80,95.46 441.21,94.36 441.64,93.25 442.07,92.12 442.51,91.00 442.97,89.87 443.45,88.75 443.95,87.65 444.46,86.56 445.00,85.50 445.57,84.45 446.17,83.41 446.80,82.36 447.44,81.33 448.11,80.30 448.79,79.28 449.47,78.27 450.16,77.27 450.84,76.30 451.51,75.34 452.16,74.41 452.80,73.50 453.41,72.62 454.00,71.75 454.57,70.91 455.14,70.09 455.70,69.28 456.26,68.49 456.82,67.71 457.41,66.95 458.01,66.20 458.64,65.46 459.30,64.72 460.00,64.00 460.74,63.27 461.51,62.54 462.30,61.82 463.13,61.09 463.97,60.38 464.82,59.69 465.70,59.02 466.57,58.37 467.46,57.77 468.34,57.20 469.22,56.67 470.10,56.20 470.98,55.77 471.87,55.36 472.78,54.97 473.70,54.62 474.62,54.31 475.54,54.03 476.46,53.79 477.37,53.59 478.28,53.44 479.17,53.34 480.04,53.29 480.90,53.30 481.73,53.38 482.54,53.52 483.32,53.74 484.09,54.00 484.85,54.32 485.61,54.67 486.37,55.05 487.13,55.45 487.91,55.87 488.72,56.28 489.54,56.70 490.40,57.10 491.30,57.50 492.24,57.90 493.21,58.31 494.21,58.74 495.22,59.18 496.23,59.63 497.24,60.10 498.24,60.58 499.21,61.08 500.15,61.60 501.05,62.14 501.90,62.70 502.71,63.31 503.48,63.97 504.23,64.69 504.95,65.44 505.65,66.20 506.33,66.97 506.99,67.72 507.64,68.45 508.27,69.14 508.89,69.77 509.50,70.33 510.10,70.80 510.69,71.15 511.26,71.38 511.81,71.52 512.34,71.58 512.87,71.60 513.38,71.61 513.87,71.63 514.37,71.70 514.85,71.83 515.34,72.05 515.82,72.40 516.30,72.90 516.78,73.56 517.26,74.34 517.74,75.24 518.21,76.23 518.68,77.28 519.14,78.38 519.60,79.51 520.04,80.64 520.47,81.76 520.90,82.84 521.31,83.86 521.70,84.80 522.08,85.69 522.45,86.57 522.82,87.43 523.17,88.27 523.51,89.10 523.84,89.92 524.16,90.71 524.47,91.49 524.77,92.25 525.05,92.99 525.33,93.71 525.60,94.40 525.86,95.09 526.11,95.77 526.36,96.46 526.60,97.13 526.83,97.78 527.04,98.40 527.25,98.99 527.43,99.54 527.60,100.04 527.76,100.49 527.89,100.88 528.00,101.20" fill="none" stroke="#0a0ad0" stroke-width="0.8"/>
<polyline points="369.70,173.30 369.79,172.76 369.91,172.08 370.04,171.29 370.18,170.40 370.34,169.43 370.51,168.40 370.69,167.34 370.89,166.26 371.08,165.19 371.29,164.14 371.49,163.14 371.70,162.20 371.91,161.30 372.12,160.41 372.33,159.52 372.55,158.63 372.78,157.75 373.01,156.87 373.26,156.00 373.51,155.14 373.79,154.29 374.07,153.44 374.38,152.62 374.70,151.80 375.04,150.99 375.40,150.16 375.78,149.33 376.17,148.51 376.58,147.70 376.99,146.90 377.42,146.12 377.86,145.38 378.31,144.67 378.77,143.99 379.23,143.37 379.70,142.80 380.18,142.28 380.67,141.80 381.17,141.35 381.68,140.95 382.20,140.58 382.72,140.24 383.26,139.93 383.80,139.65 384.35,139.40 384.89,139.18 385.45,138.98 386.00,138.80 386.56,138.65 387.13,138.52 387.70,138.43 388.28,138.36 388.87,138.31 389.46,138.30 390.05,138.31 390.64,138.36 391.23,138.43 391.83,138.52 392.41,138.65 393.00,138.80 393.59,138.98 394.19,139.20 394.80,139.45 395.41,139.73 396.02,140.03 396.62,140.36 397.23,140.72 397.81,141.10 398.39,141.50 398.95,141.91 399.49,142.35 400.00,142.80 400.49,143.28 400.96,143.78 401.41,144.32 401.85,144.89 402.28,145.47 402.69,146.07 403.09,146.68 403.48,147.30 403.87,147.93 404.25,148.56 404.62,149.18 405.00,149.80 405.38,150.46 405.75,151.20 406.12,151.99 406.49,152.80 406.85,153.63 407.20,154.43 407.54,155.19 407.87,155.89 408.18,156.49 408.47,156.97 408.75,157.32 409.00,157.50 409.23,157.51 409.43,157.35 409.61,157.06 409.77,156.66 409.91,156.17 410.04,155.61 410.17,155.00 410.29,154.36 410.41,153.72 410.53,153.10 410.66,152.52 410.80,152.00 410.94,151.52 411.09,151.04 411.23,150.56 411.36,150.07 411.50,149.59 411.64,149.09 411.78,148.60 411.91,148.09 412.06,147.58 412.20,147.06 412.35,146.54 412.50,146.00 412.66,145.45 412.82,144.88 412.98,144.30 413.15,143.71 413.32,143.11 413.49,142.51 413.67,141.90 413.84,141.30 414.01,140.71 414.17,140.13 414.34,139.56 414.50,139.00 414.66,138.46 414.81,137.95 414.96,137.44 415.11,136.95 415.26,136.47 415.41,135.98 415.56,135.50 415.71,135.00 415.85,134.50 416.00,133.99 416.15,133.45 416.30,132.90 416.45,132.33 416.59,131.75 416.72,131.15 416.86,130.55 416.99,129.94 417.13,129.32 417.27,128.69 417.42,128.05 417.57,127.40 417.74,126.74 417.91,126.07 418.10,125.40 418.30,124.72 418.51,124.03 418.72,123.33 418.94,122.63 419.17,121.91 419.41,121.19 419.65,120.45 419.90,119.71 420.16,118.95 420.43,118.18 420.71,117.40 421.00,116.60 421.30,115.78 421.62,114.94 421.95,114.08 422.30,113.20 422.65,112.32 423.01,111.42 423.37,110.52 423.73,109.62 424.09,108.72 424.44,107.83 424.78,106.96 425.10,106.10 425.41,105.25 425.71,104.40 426.01,103.55 426.30,102.70 426.58,101.85 426.86,101.01 427.14,100.18 427.43,99.36 427.71,98.55 428.00,97.75 428.30,96.97 428.60,96.20 428.90,95.44 429.19,94.69 429.47,93.94 429.75,93.21 430.03,92.48 430.33,91.77 430.63,91.07 430.95,90.39 431.29,89.73 431.66,89.10 432.06,88.49 432.50,87.90 432.97,87.36 433.47,86.87 433.99,86.42 434.54,86.00 435.10,85.60 435.69,85.21 436.30,84.82 436.93,84.41 437.57,83.99 438.23,83.54 438.91,83.05 439.60,82.50 440.31,81.90 441.04,81.25 441.80,80.55 442.57,79.83 443.36,79.09 444.17,78.34 444.99,77.58 445.82,76.83 446.66,76.10 447.50,75.40 448.35,74.73 449.20,74.10 450.07,73.49 450.97,72.86 451.90,72.22 452.84,71.59 453.79,70.97 454.74,70.38 455.68,69.83 456.61,69.34 457.51,68.90 458.38,68.55 459.22,68.27 460.00,68.10 460.73,68.03 461.40,68.07 462.02,68.19 462.61,68.39 463.18,68.65 463.74,68.96 464.29,69.31 464.85,69.68 465.43,70.07 466.04,70.46 466.70,70.84 467.40,71.20 468.17,71.55 469.01,71.92 469.90,72.30 470.83,72.70 471.78,73.12 472.72,73.54 473.66,73.98 474.57,74.43 475.43,74.89 476.24,75.35 476.97,75.82 477.60,76.30 478.14,76.79 478.58,77.29 478.96,77.81 479.27,78.34 479.55,78.87 479.79,79.42 480.01,79.97 480.24,80.52 480.47,81.07 480.74,81.62 481.04,82.16 481.40,82.70 481.81,83.23 482.25,83.77 482.72,84.30 483.21,84.83 483.72,85.37 484.23,85.90 484.73,86.43 485.23,86.97 485.71,87.50 486.17,88.03 486.60,88.57 487.00,89.10 487.35,89.63 487.67,90.17 487.95,90.71 488.20,91.25 488.45,91.79 488.68,92.33 488.92,92.87 489.16,93.40 489.43,93.94 489.71,94.46 490.04,94.98 490.40,95.50 490.81,96.02 491.27,96.54 491.77,97.08 492.29,97.61 492.83,98.14 493.37,98.66 493.92,99.17 494.46,99.66 494.97,100.13 495.46,100.58 495.90,101.01 496.30,101.40 496.66,101.77 497.00,102.11 497.32,102.44 497.63,102.76 497.91,103.05 498.17,103.32 498.41,103.57 498.63,103.80 498.83,104.01 499.01,104.20 499.16,104.36 499.30,104.50" fill="none" stroke="#33e3ef" stroke-width="0.8"/>
<polyline points="372.20,173.30 372.32,172.75 372.47,172.06 372.65,171.24 372.84,170.32 373.06,169.33 373.29,168.28 373.53,167.19 373.78,166.09 374.03,165.00 374.29,163.94 374.55,162.93 374.80,162.00 375.05,161.11 375.30,160.22 375.56,159.34 375.82,158.46 376.09,157.59 376.36,156.73 376.64,155.89 376.93,155.06 377.23,154.26 377.54,153.48 377.87,152.72 378.20,152.00 378.55,151.30 378.91,150.61 379.27,149.95 379.65,149.30 380.04,148.67 380.44,148.06 380.84,147.48 381.26,146.93 381.68,146.40 382.11,145.90 382.55,145.43 383.00,145.00 383.46,144.60 383.93,144.23 384.42,143.89 384.91,143.57 385.41,143.29 385.93,143.03 386.44,142.80 386.96,142.59 387.47,142.41 387.99,142.25 388.50,142.11 389.00,142.00 389.50,141.91 390.01,141.83 390.52,141.79 391.04,141.76 391.55,141.76 392.06,141.78 392.57,141.83 393.07,141.91 393.57,142.01 394.06,142.14 394.54,142.31 395.00,142.50 395.45,142.73 395.90,143.00 396.34,143.31 396.78,143.65 397.20,144.02 397.62,144.41 398.04,144.82 398.44,145.24 398.84,145.68 399.24,146.12 399.62,146.56 400.00,147.00 400.37,147.45 400.74,147.91 401.11,148.38 401.46,148.87 401.81,149.37 402.16,149.88 402.49,150.39 402.81,150.91 403.13,151.43 403.43,151.95 403.72,152.48 404.00,153.00 404.26,153.54 404.52,154.12 404.76,154.72 404.99,155.33 405.21,155.95 405.42,156.56 405.62,157.16 405.81,157.72 405.99,158.25 406.17,158.73 406.34,159.15 406.50,159.50 406.65,159.81 406.79,160.09 406.91,160.36 407.03,160.59 407.13,160.79 407.23,160.94 407.33,161.04 407.42,161.07 407.51,161.05 407.60,160.95 407.70,160.77 407.80,160.50 407.90,160.12 408.00,159.63 408.10,159.03 408.20,158.35 408.29,157.61 408.39,156.81 408.48,155.99 408.58,155.15 408.68,154.31 408.78,153.50 408.89,152.72 409.00,152.00 409.11,151.33 409.23,150.67 409.35,150.04 409.47,149.41 409.59,148.78 409.71,148.16 409.84,147.52 409.97,146.87 410.10,146.20 410.23,145.50 410.36,144.77 410.50,144.00 410.64,143.18 410.78,142.30 410.92,141.38 411.06,140.43 411.20,139.46 411.35,138.47 411.50,137.49 411.65,136.53 411.81,135.58 411.97,134.67 412.13,133.81 412.30,133.00 412.47,132.25 412.65,131.54 412.84,130.86 413.03,130.21 413.22,129.59 413.42,128.99 413.62,128.39 413.81,127.81 414.01,127.22 414.21,126.63 414.41,126.02 414.60,125.40 414.79,124.77 414.98,124.15 415.16,123.54 415.34,122.92 415.53,122.31 415.71,121.69 415.90,121.07 416.09,120.44 416.28,119.81 416.48,119.15 416.69,118.49 416.90,117.80 417.12,117.08 417.35,116.33 417.59,115.55 417.83,114.75 418.08,113.94 418.32,113.13 418.58,112.33 418.83,111.54 419.07,110.77 419.32,110.04 419.56,109.34 419.80,108.70 420.03,108.10 420.25,107.54 420.47,107.01 420.69,106.50 420.90,106.02 421.12,105.56 421.34,105.11 421.56,104.68 421.78,104.25 422.01,103.84 422.25,103.42 422.50,103.00 422.75,102.60 423.00,102.24 423.24,101.90 423.49,101.59 423.74,101.28 423.99,100.97 424.26,100.65 424.55,100.31 424.85,99.95 425.17,99.55 425.52,99.10 425.90,98.60 426.30,98.04 426.73,97.42 427.18,96.75 427.64,96.05 428.13,95.32 428.63,94.57 429.15,93.81 429.68,93.05 430.22,92.30 430.77,91.57 431.33,90.87 431.90,90.20 432.48,89.55 433.08,88.89 433.70,88.24 434.34,87.59 434.98,86.94 435.64,86.31 436.30,85.70 436.96,85.11 437.63,84.56 438.29,84.03 438.95,83.54 439.60,83.10 440.24,82.69 440.88,82.32 441.51,81.98 442.15,81.66 442.78,81.38 443.42,81.12 444.06,80.89 444.71,80.68 445.36,80.50 446.03,80.34 446.71,80.21 447.40,80.10 448.11,80.01 448.85,79.95 449.61,79.90 450.38,79.89 451.16,79.89 451.94,79.92 452.72,79.98 453.50,80.07 454.26,80.18 455.00,80.33 455.71,80.50 456.40,80.70 457.06,80.95 457.70,81.24 458.32,81.59 458.93,81.97 459.53,82.37 460.11,82.80 460.69,83.24 461.26,83.68 461.82,84.11 462.38,84.53 462.94,84.93 463.50,85.30 464.06,85.63 464.62,85.92 465.18,86.19 465.73,86.44 466.28,86.68 466.82,86.93 467.36,87.20 467.89,87.49 468.41,87.81 468.92,88.18 469.41,88.61 469.90,89.10 470.36,89.66 470.80,90.29 471.22,90.96 471.63,91.69 472.03,92.44 472.42,93.22 472.81,94.03 473.21,94.84 473.63,95.65 474.06,96.45 474.52,97.24 475.00,98.00 475.52,98.76 476.06,99.54 476.62,100.33 477.20,101.14 477.80,101.94 478.40,102.74 479.00,103.52 479.61,104.29 480.20,105.02 480.79,105.72 481.35,106.39 481.90,107.00 482.45,107.58 483.01,108.13 483.58,108.67 484.16,109.18 484.73,109.66 485.28,110.11 485.81,110.53 486.31,110.92 486.76,111.27 487.17,111.59 487.52,111.87 487.80,112.10" fill="none" stroke="#e020e8" stroke-width="0.8"/>
<path d="M369.00 170.55L371.75 175.30L366.25 175.30Z" fill="#22dd22"/>
<path d="M369.55 167.95L372.30 172.70L366.80 172.70Z" fill="#22dd22"/>
<path d="M370.15 165.09L372.90 169.84L367.40 169.84Z" fill="#22dd22"/>
<path d="M370.73 162.46L373.48 167.21L367.98 167.21Z" fill="#22dd22"/>
<path d="M371.41 159.61L374.16 164.36L368.66 164.36Z" fill="#22dd22"/>
<path d="M372.12 156.81L374.87 161.56L369.37 161.56Z" fill="#22dd22"/>
<path d="M372.84 154.11L375.59 158.86L370.09 158.86Z" fill="#22dd22"/>
<path d="M373.65 151.49L376.40 156.24L370.90 156.24Z" fill="#22dd22"/>
<path d="M374.63 148.93L377.38 153.68L371.88 153.68Z" fill="#22dd22"/>
<path d="M375.81 146.33L378.56 151.08L373.06 151.08Z" fill="#22dd22"/>
<path d="M377.12 143.78L379.87 148.53L374.37 148.53Z" fill="#22dd22"/>
<path d="M378.56 141.48L381.31 146.23L375.81 146.23Z" fill="#22dd22"/>
<path d="M380.29 139.39L383.04 144.14L377.54 144.14Z" fill="#22dd22"/>
<path d="M382.40 137.59L385.15 142.34L379.65 142.34Z" fill="#22dd22"/>
<path d="M384.87 136.19L387.62 140.94L382.12 140.94Z" fill="#22dd22"/>
<path d="M387.37 135.40L390.12 140.15L384.62 140.15Z" fill="#22dd22"/>
<path d="M390.18 135.25L392.93 140.00L387.43 140.00Z" fill="#22dd22"/>
<path d="M392.77 135.69L395.52 140.44L390.02 140.44Z" fill="#22dd22"/>
<path d="M395.41 136.68L398.16 141.43L392.66 141.43Z" fill="#22dd22"/>
<path d="M397.81 138.05L400.56 142.80L395.06 142.80Z" fill="#22dd22"/>
<path d="M400.00 139.75L402.75 144.50L397.25 144.50Z" fill="#22dd22"/>
<path d="M401.85 141.84L404.60 146.59L399.10 146.59Z" fill="#22dd22"/>
<path d="M403.33 144.02L406.08 148.77L400.58 148.77Z" fill="#22dd22"/>
<path d="M404.70 146.26L407.45 151.01L401.95 151.01Z" fill="#22dd22"/>
<path d="M406.06 148.77L408.81 153.52L403.31 153.52Z" fill="#22dd22"/>
<path d="M407.25 151.38L410.00 156.12L404.50 156.12Z" fill="#22dd22"/>
<path d="M408.52 153.83L411.27 158.58L405.77 158.58Z" fill="#22dd22"/>
<path d="M409.59 152.28L412.34 157.03L406.84 157.03Z" fill="#22dd22"/>
<path d="M409.74 149.57L412.49 154.32L406.99 154.32Z" fill="#22dd22"/>
<path d="M410.10 146.75L412.85 151.50L407.35 151.50Z" fill="#22dd22"/>
<path d="M410.73 144.22L413.48 148.97L407.98 148.97Z" fill="#22dd22"/>
<path d="M411.44 141.55L414.19 146.30L408.69 146.30Z" fill="#22dd22"/>
<path d="M412.07 138.95L414.82 143.70L409.32 143.70Z" fill="#22dd22"/>
<path d="M412.65 136.10L415.40 140.85L409.90 140.85Z" fill="#22dd22"/>
<path d="M413.16 133.42L415.91 138.17L410.41 138.17Z" fill="#22dd22"/>
<path d="M413.71 130.65L416.46 135.40L410.96 135.40Z" fill="#22dd22"/>
<path d="M414.30 127.83L417.05 132.58L411.55 132.58Z" fill="#22dd22"/>
<path d="M414.86 125.29L417.61 130.04L412.11 130.04Z" fill="#22dd22"/>
<path d="M415.44 122.70L418.19 127.45L412.69 127.45Z" fill="#22dd22"/>
<path d="M416.05 120.09L418.80 124.84L413.30 124.84Z" fill="#22dd22"/>
<path d="M416.68 117.52L419.43 122.27L413.93 122.27Z" fill="#22dd22"/>
<path d="M417.33 114.98L420.08 119.73L414.58 119.73Z" fill="#22dd22"/>
<path d="M418.00 112.45L420.75 117.20L415.25 117.20Z" fill="#22dd22"/>
<path d="M418.72 109.89L421.47 114.64L415.97 114.64Z" fill="#22dd22"/>
<path d="M419.50 107.25L422.25 112.00L416.75 112.00Z" fill="#22dd22"/>
<path d="M420.34 104.49L423.09 109.24L417.59 109.24Z" fill="#22dd22"/>
<path d="M421.22 101.64L423.97 106.39L418.47 106.39Z" fill="#22dd22"/>
<path d="M422.17 98.79L424.92 103.54L419.42 103.54Z" fill="#22dd22"/>
<path d="M423.19 96.01L425.94 100.76L420.44 100.76Z" fill="#22dd22"/>
<path d="M424.28 93.39L427.03 98.14L421.53 98.14Z" fill="#22dd22"/>
<path d="M425.42 90.85L428.17 95.60L422.67 95.60Z" fill="#22dd22"/>
<path d="M426.64 88.38L429.39 93.13L423.89 93.13Z" fill="#22dd22"/>
<path d="M428.02 85.94L430.77 90.69L425.27 90.69Z" fill="#22dd22"/>
<path d="M429.62 83.50L432.37 88.25L426.87 88.25Z" fill="#22dd22"/>
<path d="M431.18 81.36L433.93 86.11L428.43 86.11Z" fill="#22dd22"/>
<path d="M432.88 79.23L435.63 83.98L430.13 83.98Z" fill="#22dd22"/>
<path d="M434.65 77.17L437.40 81.92L431.90 81.92Z" fill="#22dd22"/>
<path d="M436.43 75.25L439.18 80.00L433.68 80.00Z" fill="#22dd22"/>
<path d="M438.45 73.23L441.20 77.98L435.70 77.98Z" fill="#22dd22"/>
<path d="M440.47 71.43L443.22 76.18L437.72 76.18Z" fill="#22dd22"/>
<path d="M442.52 69.79L445.27 74.54L439.77 74.54Z" fill="#22dd22"/>
<path d="M444.64 68.24L447.39 72.99L441.89 72.99Z" fill="#22dd22"/>
<path d="M446.86 66.71L449.61 71.46L444.11 71.46Z" fill="#22dd22"/>
<path d="M449.09 65.33L451.84 70.08L446.34 70.08Z" fill="#22dd22"/>
<path d="M451.47 63.97L454.22 68.72L448.72 68.72Z" fill="#22dd22"/>
<path d="M454.05 62.55L456.80 67.30L451.30 67.30Z" fill="#22dd22"/>
<path d="M456.40 61.25L459.15 66.00L453.65 66.00Z" fill="#22dd22"/>
<path d="M464.70 63.55L467.45 68.30L461.95 68.30Z" fill="#22dd22"/>
<path d="M473.70 66.65L476.45 71.40L470.95 71.40Z" fill="#22dd22"/>
<path d="M479.40 73.05L482.15 77.80L476.65 77.80Z" fill="#22dd22"/>
<path d="M487.00 83.25L489.75 88.00L484.25 88.00Z" fill="#22dd22"/>
<path d="M491.70 91.45L494.45 96.20L488.95 96.20Z" fill="#22dd22"/>
<path d="M495.50 100.45L498.25 105.20L492.75 105.20Z" fill="#22dd22"/>
<path d="M501.40 106.35L504.15 111.10L498.65 111.10Z" fill="#22dd22"/>
<circle cx="366.00" cy="173.30" r="2.60" fill="#e5111b"/>
<circle cx="366.45" cy="171.28" r="2.60" fill="#e5111b"/>
<circle cx="366.93" cy="169.16" r="2.60" fill="#e5111b"/>
<circle cx="367.38" cy="167.19" r="2.60" fill="#e5111b"/>
<circle cx="367.88" cy="165.21" r="2.60" fill="#e5111b"/>
<circle cx="368.50" cy="163.00" r="2.60" fill="#e5111b"/>
<circle cx="369.15" cy="160.95" r="2.60" fill="#e5111b"/>
<circle cx="369.86" cy="158.88" r="2.60" fill="#e5111b"/>
<circle cx="370.62" cy="156.84" r="2.60" fill="#e5111b"/>
<circle cx="371.43" cy="154.87" r="2.60" fill="#e5111b"/>
<circle cx="372.30" cy="153.00" r="2.60" fill="#e5111b"/>
<circle cx="373.23" cy="151.22" r="2.60" fill="#e5111b"/>
<circle cx="374.39" cy="149.21" r="2.60" fill="#e5111b"/>
<circle cx="375.62" cy="147.33" r="2.60" fill="#e5111b"/>
<circle cx="376.92" cy="145.65" r="2.60" fill="#e5111b"/>
<circle cx="378.49" cy="144.01" r="2.60" fill="#e5111b"/>
<circle cx="380.15" cy="142.62" r="2.60" fill="#e5111b"/>
<circle cx="381.90" cy="141.48" r="2.60" fill="#e5111b"/>
<circle cx="383.76" cy="140.59" r="2.60" fill="#e5111b"/>
<circle cx="385.78" cy="139.95" r="2.60" fill="#e5111b"/>
<circle cx="387.97" cy="139.56" r="2.60" fill="#e5111b"/>
<circle cx="390.17" cy="139.42" r="2.60" fill="#e5111b"/>
<circle cx="392.25" cy="139.53" r="2.60" fill="#e5111b"/>
<circle cx="394.22" cy="139.88" r="2.60" fill="#e5111b"/>
<circle cx="396.36" cy="140.58" r="2.60" fill="#e5111b"/>
<circle cx="398.15" cy="141.46" r="2.60" fill="#e5111b"/>
<circle cx="399.82" cy="142.62" r="2.60" fill="#e5111b"/>
<circle cx="401.38" cy="144.15" r="2.60" fill="#e5111b"/>
<circle cx="402.83" cy="145.87" r="2.60" fill="#e5111b"/>
<circle cx="404.18" cy="147.59" r="2.60" fill="#e5111b"/>
<circle cx="405.43" cy="149.25" r="2.60" fill="#e5111b"/>
<circle cx="406.58" cy="150.97" r="2.60" fill="#e5111b"/>
<circle cx="407.74" cy="152.81" r="2.60" fill="#e5111b"/>
<circle cx="408.88" cy="154.57" r="2.60" fill="#e5111b"/>
<circle cx="410.00" cy="156.25" r="2.60" fill="#e5111b"/>
<rect x="368.80" y="171.10" width="4.40" height="4.40" fill="#000000"/>
<rect x="369.19" y="169.38" width="4.40" height="4.40" fill="#000000"/>
<rect x="369.57" y="167.66" width="4.40" height="4.40" fill="#000000"/>
<rect x="370.01" y="165.72" width="4.40" height="4.40" fill="#000000"/>
<rect x="370.40" y="164.12" width="4.40" height="4.40" fill="#000000"/>
<rect x="370.80" y="162.56" width="4.40" height="4.40" fill="#000000"/>
<rect x="371.30" y="160.80" width="4.40" height="4.40" fill="#000000"/>
<rect x="371.81" y="159.18" width="4.40" height="4.40" fill="#000000"/>
<rect x="372.34" y="157.57" width="4.40" height="4.40" fill="#000000"/>
<rect x="372.89" y="156.00" width="4.40" height="4.40" fill="#000000"/>
<rect x="373.49" y="154.49" width="4.40" height="4.40" fill="#000000"/>
<rect x="374.25" y="152.81" width="4.40" height="4.40" fill="#000000"/>
<rect x="375.09" y="151.33" width="4.40" height="4.40" fill="#000000"/>
<rect x="376.00" y="150.00" width="4.40" height="4.40" fill="#000000"/>
<rect x="377.14" y="148.64" width="4.40" height="4.40" fill="#000000"/>
<rect x="378.36" y="147.46" width="4.40" height="4.40" fill="#000000"/>
<rect x="379.62" y="146.43" width="4.40" height="4.40" fill="#000000"/>
<rect x="380.94" y="145.52" width="4.40" height="4.40" fill="#000000"/>
<rect x="382.33" y="144.72" width="4.40" height="4.40" fill="#000000"/>
<rect x="383.97" y="144.05" width="4.40" height="4.40" fill="#000000"/>
<rect x="385.60" y="143.80" width="4.40" height="4.40" fill="#000000"/>
<rect x="387.22" y="144.06" width="4.40" height="4.40" fill="#000000"/>
<rect x="388.86" y="144.77" width="4.40" height="4.40" fill="#000000"/>
<rect x="390.27" y="145.64" width="4.40" height="4.40" fill="#000000"/>
<rect x="391.62" y="146.65" width="4.40" height="4.40" fill="#000000"/>
<rect x="392.89" y="147.82" width="4.40" height="4.40" fill="#000000"/>
<rect x="394.12" y="149.22" width="4.40" height="4.40" fill="#000000"/>
<rect x="395.12" y="150.51" width="4.40" height="4.40" fill="#000000"/>
<rect x="396.22" y="152.00" width="4.40" height="4.40" fill="#000000"/>
<rect x="397.22" y="153.39" width="4.40" height="4.40" fill="#000000"/>
<rect x="398.11" y="154.84" width="4.40" height="4.40" fill="#000000"/>
<rect x="398.93" y="156.26" width="4.40" height="4.40" fill="#000000"/>
<rect x="399.79" y="157.65" width="4.40" height="4.40" fill="#000000"/>
<rect x="400.90" y="158.80" width="4.40" height="4.40" fill="#000000"/>
<rect x="402.48" y="159.24" width="4.40" height="4.40" fill="#000000"/>
<path d="M366.20 176.05L368.95 171.30L363.45 171.30Z" fill="#0a0ad0"/>
<path d="M367.48 170.88L370.23 166.13L364.73 166.13Z" fill="#0a0ad0"/>
<path d="M368.80 165.98L371.55 161.23L366.05 161.23Z" fill="#0a0ad0"/>
<path d="M370.24 161.10L372.99 156.35L367.49 156.35Z" fill="#0a0ad0"/>
<path d="M371.87 156.27L374.62 151.52L369.12 151.52Z" fill="#0a0ad0"/>
<path d="M373.69 151.53L376.44 146.78L370.94 146.78Z" fill="#0a0ad0"/>
<path d="M375.62 146.73L378.37 141.98L372.87 141.98Z" fill="#0a0ad0"/>
<path d="M377.71 141.86L380.46 137.11L374.96 137.11Z" fill="#0a0ad0"/>
<path d="M379.67 137.25L382.42 132.50L376.92 132.50Z" fill="#0a0ad0"/>
<path d="M382.14 132.84L384.89 128.09L379.39 128.09Z" fill="#0a0ad0"/>
<path d="M385.74 129.28L388.49 124.53L382.99 124.53Z" fill="#0a0ad0"/>
<path d="M389.66 126.09L392.41 121.34L386.91 121.34Z" fill="#0a0ad0"/>
<path d="M394.25 123.86L397.00 119.11L391.50 119.11Z" fill="#0a0ad0"/>
<path d="M399.23 123.67L401.98 118.92L396.48 118.92Z" fill="#0a0ad0"/>
<path d="M404.16 125.04L406.91 120.29L401.41 120.29Z" fill="#0a0ad0"/>
<path d="M408.25 127.94L411.00 123.19L405.50 123.19Z" fill="#0a0ad0"/>
<path d="M411.72 131.65L414.47 126.90L408.97 126.90Z" fill="#0a0ad0"/>
<path d="M414.89 135.68L417.64 130.93L412.14 130.93Z" fill="#0a0ad0"/>
<path d="M417.68 139.85L420.43 135.10L414.93 135.10Z" fill="#0a0ad0"/>
<path d="M420.68 144.01L423.43 139.26L417.93 139.26Z" fill="#0a0ad0"/>
<path d="M423.27 148.28L426.02 143.53L420.52 143.53Z" fill="#0a0ad0"/>
<path d="M427.60 147.55L430.35 142.80L424.85 142.80Z" fill="#0a0ad0"/>
<path d="M429.40 141.65L432.15 136.90L426.65 136.90Z" fill="#0a0ad0"/>
<path d="M431.10 133.95L433.85 129.20L428.35 129.20Z" fill="#0a0ad0"/>
<path d="M433.60 122.85L436.35 118.10L430.85 118.10Z" fill="#0a0ad0"/>
<path d="M435.50 112.15L438.25 107.40L432.75 107.40Z" fill="#0a0ad0"/>
<path d="M439.60 101.35L442.35 96.60L436.85 96.60Z" fill="#0a0ad0"/>
<path d="M445.00 88.25L447.75 83.50L442.25 83.50Z" fill="#0a0ad0"/>
<path d="M452.80 76.25L455.55 71.50L450.05 71.50Z" fill="#0a0ad0"/>
<path d="M460.00 66.75L462.75 62.00L457.25 62.00Z" fill="#0a0ad0"/>
<path d="M470.10 58.95L472.85 54.20L467.35 54.20Z" fill="#0a0ad0"/>
<path d="M480.90 56.05L483.65 51.30L478.15 51.30Z" fill="#0a0ad0"/>
<path d="M490.40 59.85L493.15 55.10L487.65 55.10Z" fill="#0a0ad0"/>
<path d="M501.90 65.45L504.65 60.70L499.15 60.70Z" fill="#0a0ad0"/>
<path d="M510.10 73.55L512.85 68.80L507.35 68.80Z" fill="#0a0ad0"/>
<path d="M516.30 75.65L519.05 70.90L513.55 70.90Z" fill="#0a0ad0"/>
<path d="M521.70 87.55L524.45 82.80L518.95 82.80Z" fill="#0a0ad0"/>
<path d="M525.60 97.15L528.35 92.40L522.85 92.40Z" fill="#0a0ad0"/>
<path d="M528.00 103.95L530.75 99.20L525.25 99.20Z" fill="#0a0ad0"/>
<path d="M369.70 170.54L372.46 173.30L369.70 176.06L366.94 173.30Z" fill="#33e3ef"/>
<path d="M370.06 168.36L372.82 171.12L370.06 173.88L367.30 171.12Z" fill="#33e3ef"/>
<path d="M370.44 166.06L373.20 168.82L370.44 171.58L367.68 168.82Z" fill="#33e3ef"/>
<path d="M370.89 163.50L373.65 166.26L370.89 169.02L368.13 166.26Z" fill="#33e3ef"/>
<path d="M371.37 160.97L374.13 163.73L371.37 166.49L368.61 163.73Z" fill="#33e3ef"/>
<path d="M371.87 158.72L374.63 161.48L371.87 164.24L369.11 161.48Z" fill="#33e3ef"/>
<path d="M372.38 156.58L375.14 159.34L372.38 162.10L369.62 159.34Z" fill="#33e3ef"/>
<path d="M373.01 154.11L375.77 156.87L373.01 159.63L370.25 156.87Z" fill="#33e3ef"/>
<path d="M373.73 151.69L376.49 154.45L373.73 157.21L370.97 154.45Z" fill="#33e3ef"/>
<path d="M374.57 149.36L377.33 152.12L374.57 154.88L371.81 152.12Z" fill="#33e3ef"/>
<path d="M375.55 147.07L378.31 149.83L375.55 152.59L372.79 149.83Z" fill="#33e3ef"/>
<path d="M376.66 144.78L379.42 147.54L376.66 150.30L373.90 147.54Z" fill="#33e3ef"/>
<path d="M377.86 142.62L380.62 145.38L377.86 148.14L375.10 145.38Z" fill="#33e3ef"/>
<path d="M379.14 140.73L381.90 143.49L379.14 146.25L376.38 143.49Z" fill="#33e3ef"/>
<path d="M380.67 139.04L383.43 141.80L380.67 144.56L377.91 141.80Z" fill="#33e3ef"/>
<path d="M382.51 137.61L385.27 140.37L382.51 143.13L379.75 140.37Z" fill="#33e3ef"/>
<path d="M384.67 136.50L387.43 139.26L384.67 142.02L381.91 139.26Z" fill="#33e3ef"/>
<path d="M386.90 135.81L389.66 138.57L386.90 141.33L384.14 138.57Z" fill="#33e3ef"/>
<path d="M389.22 135.54L391.98 138.30L389.22 141.06L386.46 138.30Z" fill="#33e3ef"/>
<path d="M391.59 135.72L394.35 138.48L391.59 141.24L388.83 138.48Z" fill="#33e3ef"/>
<path d="M393.95 136.35L396.71 139.11L393.95 141.87L391.19 139.11Z" fill="#33e3ef"/>
<path d="M396.14 137.34L398.90 140.10L396.14 142.86L393.38 140.10Z" fill="#33e3ef"/>
<path d="M398.05 138.49L400.81 141.25L398.05 144.01L395.29 141.25Z" fill="#33e3ef"/>
<path d="M399.80 139.86L402.56 142.62L399.80 145.38L397.04 142.62Z" fill="#33e3ef"/>
<path d="M401.32 141.45L404.08 144.21L401.32 146.97L398.56 144.21Z" fill="#33e3ef"/>
<path d="M402.69 143.31L405.45 146.07L402.69 148.83L399.93 146.07Z" fill="#33e3ef"/>
<path d="M403.94 145.30L406.70 148.06L403.94 150.82L401.18 148.06Z" fill="#33e3ef"/>
<path d="M405.15 147.29L407.91 150.05L405.15 152.81L402.39 150.05Z" fill="#33e3ef"/>
<path d="M406.20 149.39L408.96 152.15L406.20 154.91L403.44 152.15Z" fill="#33e3ef"/>
<path d="M407.20 151.67L409.96 154.43L407.20 157.19L404.44 154.43Z" fill="#33e3ef"/>
<path d="M408.24 153.83L411.00 156.59L408.24 159.35L405.48 156.59Z" fill="#33e3ef"/>
<path d="M409.70 154.08L412.46 156.84L409.70 159.60L406.94 156.84Z" fill="#33e3ef"/>
<path d="M410.24 151.86L413.00 154.62L410.24 157.38L407.48 154.62Z" fill="#33e3ef"/>
<path d="M410.69 149.65L413.45 152.41L410.69 155.17L407.93 152.41Z" fill="#33e3ef"/>
<path d="M411.31 147.51L414.07 150.27L411.31 153.03L408.55 150.27Z" fill="#33e3ef"/>
<path d="M411.91 145.33L414.67 148.09L411.91 150.85L409.15 148.09Z" fill="#33e3ef"/>
<path d="M412.56 143.02L415.32 145.78L412.56 148.54L409.80 145.78Z" fill="#33e3ef"/>
<path d="M413.22 140.71L415.98 143.47L413.22 146.23L410.46 143.47Z" fill="#33e3ef"/>
<path d="M413.84 138.54L416.60 141.30L413.84 144.06L411.08 141.30Z" fill="#33e3ef"/>
<path d="M414.50 136.24L417.26 139.00L414.50 141.76L411.74 139.00Z" fill="#33e3ef"/>
<path d="M415.17 134.00L417.93 136.76L415.17 139.52L412.41 136.76Z" fill="#33e3ef"/>
<path d="M415.83 131.84L418.59 134.60L415.83 137.36L413.07 134.60Z" fill="#33e3ef"/>
<path d="M416.42 129.68L419.18 132.44L416.42 135.20L413.66 132.44Z" fill="#33e3ef"/>
<path d="M416.97 127.30L419.73 130.06L416.97 132.82L414.21 130.06Z" fill="#33e3ef"/>
<path d="M417.48 125.03L420.24 127.79L417.48 130.55L414.72 127.79Z" fill="#33e3ef"/>
<path d="M418.10 122.64L420.86 125.40L418.10 128.16L415.34 125.40Z" fill="#33e3ef"/>
<path d="M418.76 120.43L421.52 123.19L418.76 125.95L416.00 123.19Z" fill="#33e3ef"/>
<path d="M419.50 118.13L422.26 120.89L419.50 123.65L416.74 120.89Z" fill="#33e3ef"/>
<path d="M420.22 116.04L422.98 118.80L420.22 121.56L417.46 118.80Z" fill="#33e3ef"/>
<path d="M421.00 113.84L423.76 116.60L421.00 119.36L418.24 116.60Z" fill="#33e3ef"/>
<path d="M421.89 111.49L424.65 114.25L421.89 117.01L419.13 114.25Z" fill="#33e3ef"/>
<path d="M422.73 109.38L425.49 112.14L422.73 114.90L419.97 112.14Z" fill="#33e3ef"/>
<path d="M423.59 107.22L426.35 109.98L423.59 112.74L420.83 109.98Z" fill="#33e3ef"/>
<path d="M424.44 105.07L427.20 107.83L424.44 110.59L421.68 107.83Z" fill="#33e3ef"/>
<path d="M425.23 103.00L427.99 105.76L425.23 108.52L422.47 105.76Z" fill="#33e3ef"/>
<path d="M426.07 100.62L428.83 103.38L426.07 106.14L423.31 103.38Z" fill="#33e3ef"/>
<path d="M426.86 98.25L429.62 101.01L426.86 103.77L424.10 101.01Z" fill="#33e3ef"/>
<path d="M427.65 95.95L430.41 98.71L427.65 101.47L424.89 98.71Z" fill="#33e3ef"/>
<path d="M428.48 93.74L431.24 96.50L428.48 99.26L425.72 96.50Z" fill="#33e3ef"/>
<path d="M429.30 91.63L432.06 94.39L429.30 97.15L426.54 94.39Z" fill="#33e3ef"/>
<path d="M430.21 89.29L432.97 92.05L430.21 94.81L427.45 92.05Z" fill="#33e3ef"/>
<path d="M431.22 87.10L433.98 89.86L431.22 92.62L428.46 89.86Z" fill="#33e3ef"/>
<path d="M432.50 85.14L435.26 87.90L432.50 90.66L429.74 87.90Z" fill="#33e3ef"/>
<path d="M434.10 83.57L436.86 86.33L434.10 89.09L431.34 86.33Z" fill="#33e3ef"/>
<path d="M435.93 82.29L438.69 85.05L435.93 87.81L433.17 85.05Z" fill="#33e3ef"/>
<path d="M437.97 80.97L440.73 83.73L437.97 86.49L435.21 83.73Z" fill="#33e3ef"/>
<path d="M439.88 79.51L442.64 82.27L439.88 85.03L437.12 82.27Z" fill="#33e3ef"/>
<path d="M441.64 77.94L444.40 80.70L441.64 83.46L438.88 80.70Z" fill="#33e3ef"/>
<path d="M443.52 76.18L446.28 78.94L443.52 81.70L440.76 78.94Z" fill="#33e3ef"/>
<path d="M445.15 74.67L447.91 77.43L445.15 80.19L442.39 77.43Z" fill="#33e3ef"/>
<path d="M446.83 73.20L449.59 75.96L446.83 78.72L444.07 75.96Z" fill="#33e3ef"/>
<path d="M448.86 71.58L451.62 74.34L448.86 77.10L446.10 74.34Z" fill="#33e3ef"/>
<path d="M451.06 70.13L453.82 72.89L451.06 75.65L448.30 72.89Z" fill="#33e3ef"/>
<path d="M453.11 68.94L455.87 71.70L453.11 74.46L450.35 71.70Z" fill="#33e3ef"/>
<path d="M455.20 67.81L457.96 70.57L455.20 73.33L452.44 70.57Z" fill="#33e3ef"/>
<path d="M457.16 66.81L459.92 69.57L457.16 72.33L454.40 69.57Z" fill="#33e3ef"/>
<path d="M459.35 65.69L462.11 68.45L459.35 71.21L456.59 68.45Z" fill="#33e3ef"/>
<path d="M467.40 68.44L470.16 71.20L467.40 73.96L464.64 71.20Z" fill="#33e3ef"/>
<path d="M477.60 73.54L480.36 76.30L477.60 79.06L474.84 76.30Z" fill="#33e3ef"/>
<path d="M481.40 79.94L484.16 82.70L481.40 85.46L478.64 82.70Z" fill="#33e3ef"/>
<path d="M487.00 86.34L489.76 89.10L487.00 91.86L484.24 89.10Z" fill="#33e3ef"/>
<path d="M490.40 92.74L493.16 95.50L490.40 98.26L487.64 95.50Z" fill="#33e3ef"/>
<path d="M496.30 98.64L499.06 101.40L496.30 104.16L493.54 101.40Z" fill="#33e3ef"/>
<path d="M499.30 101.74L502.06 104.50L499.30 107.26L496.54 104.50Z" fill="#33e3ef"/>
<path d="M369.45 173.30L374.20 170.55L374.20 176.05Z" fill="#e020e8"/>
<path d="M369.86 171.41L374.61 168.66L374.61 174.16Z" fill="#e020e8"/>
<path d="M370.26 169.53L375.01 166.78L375.01 172.28Z" fill="#e020e8"/>
<path d="M370.73 167.41L375.48 164.66L375.48 170.16Z" fill="#e020e8"/>
<path d="M371.13 165.65L375.88 162.90L375.88 168.40Z" fill="#e020e8"/>
<path d="M371.64 163.53L376.39 160.78L376.39 166.28Z" fill="#e020e8"/>
<path d="M372.15 161.64L376.90 158.89L376.90 164.39Z" fill="#e020e8"/>
<path d="M372.66 159.87L377.41 157.12L377.41 162.62Z" fill="#e020e8"/>
<path d="M373.18 158.11L377.93 155.36L377.93 160.86Z" fill="#e020e8"/>
<path d="M373.72 156.39L378.47 153.64L378.47 159.14Z" fill="#e020e8"/>
<path d="M374.42 154.42L379.17 151.67L379.17 157.17Z" fill="#e020e8"/>
<path d="M375.18 152.58L379.93 149.83L379.93 155.33Z" fill="#e020e8"/>
<path d="M376.01 150.89L380.76 148.14L380.76 153.64Z" fill="#e020e8"/>
<path d="M376.90 149.30L381.65 146.55L381.65 152.05Z" fill="#e020e8"/>
<path d="M378.01 147.60L382.76 144.85L382.76 150.35Z" fill="#e020e8"/>
<path d="M379.19 146.10L383.94 143.35L383.94 148.85Z" fill="#e020e8"/>
<path d="M380.62 144.68L385.37 141.93L385.37 147.43Z" fill="#e020e8"/>
<path d="M382.16 143.57L386.91 140.82L386.91 146.32Z" fill="#e020e8"/>
<path d="M383.79 142.76L388.54 140.01L388.54 145.51Z" fill="#e020e8"/>
<path d="M385.64 142.14L390.39 139.39L390.39 144.89Z" fill="#e020e8"/>
<path d="M387.47 141.81L392.22 139.06L392.22 144.56Z" fill="#e020e8"/>
<path d="M389.31 141.78L394.06 139.03L394.06 144.53Z" fill="#e020e8"/>
<path d="M391.11 142.09L395.86 139.34L395.86 144.84Z" fill="#e020e8"/>
<path d="M392.80 142.78L397.55 140.03L397.55 145.53Z" fill="#e020e8"/>
<path d="M394.37 143.94L399.12 141.19L399.12 146.69Z" fill="#e020e8"/>
<path d="M395.69 145.24L400.44 142.49L400.44 147.99Z" fill="#e020e8"/>
<path d="M396.95 146.65L401.70 143.90L401.70 149.40Z" fill="#e020e8"/>
<path d="M398.14 148.10L402.89 145.35L402.89 150.85Z" fill="#e020e8"/>
<path d="M399.27 149.67L404.02 146.92L404.02 152.42Z" fill="#e020e8"/>
<path d="M400.32 151.33L405.07 148.58L405.07 154.08Z" fill="#e020e8"/>
<path d="M401.25 153.00L406.00 150.25L406.00 155.75Z" fill="#e020e8"/>
<path d="M402.06 154.84L406.81 152.09L406.81 157.59Z" fill="#e020e8"/>
<path d="M402.67 156.56L407.42 153.81L407.42 159.31Z" fill="#e020e8"/>
<path d="M403.28 158.35L408.03 155.60L408.03 161.10Z" fill="#e020e8"/>
<path d="M404.04 160.09L408.79 157.34L408.79 162.84Z" fill="#e020e8"/>
<path d="M405.05 160.50L409.80 157.75L409.80 163.25Z" fill="#e020e8"/>
<path d="M405.41 158.63L410.16 155.88L410.16 161.38Z" fill="#e020e8"/>
<path d="M405.64 156.81L410.39 154.06L410.39 159.56Z" fill="#e020e8"/>
<path d="M405.87 154.81L410.62 152.06L410.62 157.56Z" fill="#e020e8"/>
<path d="M406.12 152.87L410.87 150.12L410.87 155.62Z" fill="#e020e8"/>
<path d="M406.43 150.93L411.18 148.18L411.18 153.68Z" fill="#e020e8"/>
<path d="M406.77 149.16L411.52 146.41L411.52 151.91Z" fill="#e020e8"/>
<path d="M407.17 147.13L411.92 144.38L411.92 149.88Z" fill="#e020e8"/>
<path d="M407.53 145.21L412.28 142.46L412.28 147.96Z" fill="#e020e8"/>
<path d="M407.86 143.35L412.61 140.60L412.61 146.10Z" fill="#e020e8"/>
<path d="M408.14 141.57L412.89 138.82L412.89 144.32Z" fill="#e020e8"/>
<path d="M408.42 139.65L413.17 136.90L413.17 142.40Z" fill="#e020e8"/>
<path d="M408.72 137.69L413.47 134.94L413.47 140.44Z" fill="#e020e8"/>
<path d="M409.03 135.77L413.78 133.02L413.78 138.52Z" fill="#e020e8"/>
<path d="M409.35 133.98L414.10 131.23L414.10 136.73Z" fill="#e020e8"/>
<path d="M409.76 132.10L414.51 129.35L414.51 134.85Z" fill="#e020e8"/>
<path d="M410.28 130.21L415.03 127.46L415.03 132.96Z" fill="#e020e8"/>
<path d="M410.91 128.28L415.66 125.53L415.66 131.03Z" fill="#e020e8"/>
<path d="M411.54 126.39L416.29 123.64L416.29 129.14Z" fill="#e020e8"/>
<path d="M412.08 124.65L416.83 121.90L416.83 127.40Z" fill="#e020e8"/>
<path d="M412.59 122.92L417.34 120.17L417.34 125.67Z" fill="#e020e8"/>
<path d="M413.11 121.20L417.86 118.45L417.86 123.95Z" fill="#e020e8"/>
<path d="M413.65 119.42L418.40 116.67L418.40 122.17Z" fill="#e020e8"/>
<path d="M414.24 117.52L418.99 114.77L418.99 120.27Z" fill="#e020e8"/>
<path d="M414.79 115.71L419.54 112.96L419.54 118.46Z" fill="#e020e8"/>
<path d="M415.38 113.78L420.13 111.03L420.13 116.53Z" fill="#e020e8"/>
<path d="M415.98 111.85L420.73 109.10L420.73 114.60Z" fill="#e020e8"/>
<path d="M416.57 110.04L421.32 107.29L421.32 112.79Z" fill="#e020e8"/>
<path d="M417.23 108.22L421.98 105.47L421.98 110.97Z" fill="#e020e8"/>
<path d="M417.94 106.50L422.69 103.75L422.69 109.25Z" fill="#e020e8"/>
<path d="M418.72 104.85L423.47 102.10L423.47 107.60Z" fill="#e020e8"/>
<path d="M419.65 103.17L424.40 100.42L424.40 105.92Z" fill="#e020e8"/>
<path d="M420.74 101.59L425.49 98.84L425.49 104.34Z" fill="#e020e8"/>
<path d="M421.92 100.17L426.67 97.42L426.67 102.92Z" fill="#e020e8"/>
<path d="M423.15 98.60L427.90 95.85L427.90 101.35Z" fill="#e020e8"/>
<path d="M424.34 96.89L429.09 94.14L429.09 99.64Z" fill="#e020e8"/>
<path d="M425.48 95.17L430.23 92.42L430.23 97.92Z" fill="#e020e8"/>
<path d="M426.50 93.66L431.25 90.91L431.25 96.41Z" fill="#e020e8"/>
<path d="M427.58 92.15L432.33 89.40L432.33 94.90Z" fill="#e020e8"/>
<path d="M428.70 90.73L433.45 87.98L433.45 93.48Z" fill="#e020e8"/>
<path d="M430.15 89.13L434.90 86.38L434.90 91.88Z" fill="#e020e8"/>
<path d="M431.58 87.75L436.33 85.00L436.33 90.50Z" fill="#e020e8"/>
<path d="M433.08 86.39L437.83 83.64L437.83 89.14Z" fill="#e020e8"/>
<path d="M434.52 85.13L439.27 82.38L439.27 87.88Z" fill="#e020e8"/>
<path d="M435.99 83.86L440.74 81.11L440.74 86.61Z" fill="#e020e8"/>
<path d="M444.65 80.10L449.40 77.35L449.40 82.85Z" fill="#e020e8"/>
<path d="M453.65 80.70L458.40 77.95L458.40 83.45Z" fill="#e020e8"/>
<path d="M460.75 85.30L465.50 82.55L465.50 88.05Z" fill="#e020e8"/>
<path d="M467.15 89.10L471.90 86.35L471.90 91.85Z" fill="#e020e8"/>
<path d="M472.25 98.00L477.00 95.25L477.00 100.75Z" fill="#e020e8"/>
<path d="M479.15 107.00L483.90 104.25L483.90 109.75Z" fill="#e020e8"/>
<path d="M485.05 112.10L489.80 109.35L489.80 114.85Z" fill="#e020e8"/>
<circle cx="412.50" cy="132.00" r="2.60" fill="#e5111b"/>
<circle cx="414.00" cy="122.00" r="2.60" fill="#e5111b"/>
<circle cx="416.30" cy="112.30" r="2.60" fill="#e5111b"/>
<circle cx="419.30" cy="101.00" r="2.60" fill="#e5111b"/>
<circle cx="422.90" cy="87.90" r="2.60" fill="#e5111b"/>
<circle cx="429.50" cy="72.90" r="2.60" fill="#e5111b"/>
<circle cx="437.30" cy="58.00" r="2.60" fill="#e5111b"/>
<circle cx="447.10" cy="45.30" r="2.60" fill="#e5111b"/>
<circle cx="459.40" cy="35.90" r="2.60" fill="#e5111b"/>
<circle cx="472.00" cy="31.50" r="2.60" fill="#e5111b"/>
<circle cx="485.80" cy="35.90" r="2.60" fill="#e5111b"/>
<circle cx="498.10" cy="42.60" r="2.60" fill="#e5111b"/>
<circle cx="507.30" cy="51.00" r="2.60" fill="#e5111b"/>
<circle cx="514.50" cy="64.50" r="2.60" fill="#e5111b"/>
<circle cx="523.20" cy="77.30" r="2.60" fill="#e5111b"/>
<circle cx="524.90" cy="88.00" r="2.60" fill="#e5111b"/>
<circle cx="530.60" cy="90.80" r="2.60" fill="#e5111b"/>
<circle cx="535.20" cy="96.70" r="2.60" fill="#e5111b"/>
<circle cx="538.40" cy="101.50" r="2.60" fill="#e5111b"/>
<circle cx="540.80" cy="103.10" r="2.60" fill="#e5111b"/>
<circle cx="544.40" cy="109.60" r="2.60" fill="#e5111b"/>
<rect x="403.30" y="149.80" width="4.40" height="4.40" fill="#000000"/>
<rect x="403.30" y="139.30" width="4.40" height="4.40" fill="#000000"/>
<rect x="404.30" y="133.30" width="4.40" height="4.40" fill="#000000"/>
<rect x="407.60" y="116.80" width="4.40" height="4.40" fill="#000000"/>
<rect x="411.20" y="105.40" width="4.40" height="4.40" fill="#000000"/>
<rect x="414.80" y="93.40" width="4.40" height="4.40" fill="#000000"/>
<rect x="420.70" y="81.50" width="4.40" height="4.40" fill="#000000"/>
<rect x="437.40" y="59.40" width="4.40" height="4.40" fill="#000000"/>
<rect x="447.60" y="56.40" width="4.40" height="4.40" fill="#000000"/>
<rect x="459.00" y="53.40" width="4.40" height="4.40" fill="#000000"/>
<rect x="468.50" y="56.20" width="4.40" height="4.40" fill="#000000"/>
<rect x="477.90" y="65.20" width="4.40" height="4.40" fill="#000000"/>
<rect x="486.10" y="70.30" width="4.40" height="4.40" fill="#000000"/>
<rect x="492.00" y="79.20" width="4.40" height="4.40" fill="#000000"/>
<rect x="496.60" y="86.40" width="4.40" height="4.40" fill="#000000"/>
<rect x="499.70" y="92.50" width="4.40" height="4.40" fill="#000000"/>
<rect x="502.30" y="97.10" width="4.40" height="4.40" fill="#000000"/>
<rect x="504.80" y="101.80" width="4.40" height="4.40" fill="#000000"/>
<rect x="507.90" y="106.90" width="4.40" height="4.40" fill="#000000"/>
</g>
<rect x="351.30" y="12.10" width="217.50" height="161.20" fill="none" stroke="#3a3a3a" stroke-width="1.1"/>
<rect x="490.4" y="114.8" width="77" height="58.50" fill="#fff" stroke="#777" stroke-width="0.9"/>
<line x1="492" y1="119.80" x2="508" y2="119.80" stroke="#000000" stroke-width="0.8"/>
<rect x="497.55" y="117.35" width="4.90" height="4.90" fill="#000000"/>
<text x="511.60" y="122.60" font-size="7.8" fill="#222">Blank</text>
<line x1="492" y1="129.50" x2="508" y2="129.50" stroke="#e5111b" stroke-width="0.8"/>
<circle cx="500.00" cy="129.50" r="2.45" fill="#e5111b"/>
<text x="511.60" y="132.30" font-size="7.8" fill="#222">100um Pattern</text>
<line x1="492" y1="139.20" x2="508" y2="139.20" stroke="#22dd22" stroke-width="0.8"/>
<path d="M500.00 136.50L502.69 141.16L497.31 141.16Z" fill="#22dd22"/>
<text x="511.60" y="142.00" font-size="7.8" fill="#222">200um Pattern</text>
<line x1="492" y1="148.90" x2="508" y2="148.90" stroke="#0a0ad0" stroke-width="0.8"/>
<path d="M500.00 151.59L502.69 146.94L497.31 146.94Z" fill="#0a0ad0"/>
<text x="511.60" y="151.70" font-size="7.8" fill="#222">300um Pattern</text>
<line x1="492" y1="158.60" x2="508" y2="158.60" stroke="#33e3ef" stroke-width="0.8"/>
<path d="M500.00 155.66L502.94 158.60L500.00 161.54L497.06 158.60Z" fill="#33e3ef"/>
<text x="511.60" y="161.40" font-size="7.8" fill="#222">600um Pattern</text>
<line x1="492" y1="168.30" x2="508" y2="168.30" stroke="#e020e8" stroke-width="0.8"/>
<path d="M497.31 168.30L501.96 165.61L501.96 171.00Z" fill="#e020e8"/>
<text x="511.60" y="171.10" font-size="7.8" fill="#222">1000um Pattern</text>
<line x1="111.40" y1="237.00" x2="111.40" y2="397.50" stroke="#b6e3ae" stroke-width="0.9"/>
<line x1="142.60" y1="237.00" x2="142.60" y2="397.50" stroke="#b6e3ae" stroke-width="0.9"/>
<line x1="173.80" y1="237.00" x2="173.80" y2="397.50" stroke="#b6e3ae" stroke-width="0.9"/>
<line x1="205.00" y1="237.00" x2="205.00" y2="397.50" stroke="#b6e3ae" stroke-width="0.9"/>
<line x1="236.20" y1="237.00" x2="236.20" y2="397.50" stroke="#b6e3ae" stroke-width="0.9"/>
<line x1="267.40" y1="237.00" x2="267.40" y2="397.50" stroke="#b6e3ae" stroke-width="0.9"/>
<line x1="80.20" y1="344.00" x2="298.60" y2="344.00" stroke="#b6e3ae" stroke-width="0.9"/>
<line x1="80.20" y1="290.50" x2="298.60" y2="290.50" stroke="#b6e3ae" stroke-width="0.9"/>
<line x1="76.70" y1="397.50" x2="80.20" y2="397.50" stroke="#3a3a3a" stroke-width="1"/>
<text x="75.60" y="400.70" font-size="10.6" text-anchor="end" fill="#222">0.0</text>
<line x1="76.70" y1="344.00" x2="80.20" y2="344.00" stroke="#3a3a3a" stroke-width="1"/>
<text x="75.60" y="347.40" font-size="10.4" text-anchor="end" fill="#222">1.0x10<tspan font-size="7.0" dy="-5.2">-2</tspan></text>
<line x1="76.70" y1="290.50" x2="80.20" y2="290.50" stroke="#3a3a3a" stroke-width="1"/>
<text x="75.60" y="293.90" font-size="10.4" text-anchor="end" fill="#222">2.0x10<tspan font-size="7.0" dy="-5.2">-2</tspan></text>
<line x1="76.70" y1="237.00" x2="80.20" y2="237.00" stroke="#3a3a3a" stroke-width="1"/>
<text x="75.60" y="240.40" font-size="10.4" text-anchor="end" fill="#222">3.0x10<tspan font-size="7.0" dy="-5.2">-2</tspan></text>
<line x1="80.20" y1="397.50" x2="80.20" y2="400.80" stroke="#3a3a3a" stroke-width="1"/>
<text x="80.20" y="411.00" font-size="10.2" text-anchor="middle" fill="#222">0</text>
<line x1="111.40" y1="397.50" x2="111.40" y2="400.80" stroke="#3a3a3a" stroke-width="1"/>
<text x="111.40" y="411.00" font-size="10.2" text-anchor="middle" fill="#222">5</text>
<line x1="142.60" y1="397.50" x2="142.60" y2="400.80" stroke="#3a3a3a" stroke-width="1"/>
<text x="142.60" y="411.00" font-size="10.2" text-anchor="middle" fill="#222">10</text>
<line x1="173.80" y1="397.50" x2="173.80" y2="400.80" stroke="#3a3a3a" stroke-width="1"/>
<text x="173.80" y="411.00" font-size="10.2" text-anchor="middle" fill="#222">15</text>
<line x1="205.00" y1="397.50" x2="205.00" y2="400.80" stroke="#3a3a3a" stroke-width="1"/>
<text x="205.00" y="411.00" font-size="10.2" text-anchor="middle" fill="#222">20</text>
<line x1="236.20" y1="397.50" x2="236.20" y2="400.80" stroke="#3a3a3a" stroke-width="1"/>
<text x="236.20" y="411.00" font-size="10.2" text-anchor="middle" fill="#222">25</text>
<line x1="267.40" y1="397.50" x2="267.40" y2="400.80" stroke="#3a3a3a" stroke-width="1"/>
<text x="267.40" y="411.00" font-size="10.2" text-anchor="middle" fill="#222">30</text>
<line x1="298.60" y1="397.50" x2="298.60" y2="400.80" stroke="#3a3a3a" stroke-width="1"/>
<text x="298.60" y="411.00" font-size="10.2" text-anchor="middle" fill="#222">35</text>
<text x="189.40" y="428.80" font-size="12.9" text-anchor="middle" fill="#222">Thickness (um)</text>
<g transform="translate(32.6,316.4) rotate(-90)"><text x="0.00" y="0.00" font-size="13.25" text-anchor="middle" fill="#222">Diffusion Coefficient (cm<tspan font-size="8.4" dy="-6">2</tspan><tspan dy="6">/s)</tspan></text></g>
<text x="0.90" y="228.20" font-size="14.2" font-weight="bold" fill="#111" textLength="17.6" lengthAdjust="spacingAndGlyphs">(c)</text>
<rect x="103.20" y="392.90" width="5.00" height="5.00" fill="#000000"/>
<rect x="114.00" y="391.70" width="5.00" height="5.00" fill="#000000"/>
<rect x="139.80" y="388.20" width="5.00" height="5.00" fill="#000000"/>
<rect x="152.90" y="387.40" width="5.00" height="5.00" fill="#000000"/>
<rect x="174.00" y="381.00" width="5.00" height="5.00" fill="#000000"/>
<rect x="189.50" y="377.00" width="5.00" height="5.00" fill="#000000"/>
<rect x="208.60" y="375.80" width="5.00" height="5.00" fill="#000000"/>
<rect x="233.00" y="367.00" width="5.00" height="5.00" fill="#000000"/>
<circle cx="130.00" cy="389.00" r="3.00" fill="#e5111b"/>
<circle cx="204.70" cy="351.70" r="3.00" fill="#e5111b"/>
<circle cx="235.50" cy="325.80" r="3.00" fill="#e5111b"/>
<circle cx="279.30" cy="279.60" r="3.00" fill="#e5111b"/>
<circle cx="285.50" cy="298.20" r="3.00" fill="#e5111b"/>
<path d="M104.90 392.04L108.26 395.40L104.90 398.76L101.54 395.40Z" fill="#33e3ef"/>
<path d="M133.20 382.94L136.56 386.30L133.20 389.66L129.84 386.30Z" fill="#33e3ef"/>
<path d="M179.30 371.04L182.66 374.40L179.30 377.76L175.94 374.40Z" fill="#33e3ef"/>
<path d="M198.00 361.44L201.36 364.80L198.00 368.16L194.64 364.80Z" fill="#33e3ef"/>
<path d="M220.20 356.24L223.56 359.60L220.20 362.96L216.84 359.60Z" fill="#33e3ef"/>
<path d="M266.80 329.24L270.16 332.60L266.80 335.96L263.44 332.60Z" fill="#33e3ef"/>
<rect x="80.20" y="237.00" width="218.40" height="160.50" fill="none" stroke="#3a3a3a" stroke-width="1.1"/>
<rect x="243.4" y="372.8" width="53.2" height="24.70" fill="#fff" stroke="#777" stroke-width="0.9"/>
<rect x="250.30" y="377.00" width="4.20" height="4.20" fill="#000000"/>
<text x="259.50" y="381.00" font-size="5.2" fill="#222">Blank</text>
<circle cx="252.40" cy="385.50" r="2.10" fill="#e5111b"/>
<text x="259.50" y="387.40" font-size="5.2" fill="#222">100um Pattern</text>
<path d="M252.40 389.38L254.92 391.90L252.40 394.42L249.88 391.90Z" fill="#33e3ef"/>
<text x="259.50" y="393.80" font-size="5.2" fill="#222">600um Pattern</text>
<rect x="81" y="238" width="142" height="107" fill="#fff"/>
<line x1="117.94" y1="242.61" x2="117.94" y2="325.80" stroke="#b6e3ae" stroke-width="0.7"/>
<line x1="131.98" y1="242.61" x2="131.98" y2="325.80" stroke="#b6e3ae" stroke-width="0.7"/>
<line x1="146.02" y1="242.61" x2="146.02" y2="325.80" stroke="#b6e3ae" stroke-width="0.7"/>
<line x1="160.06" y1="242.61" x2="160.06" y2="325.80" stroke="#b6e3ae" stroke-width="0.7"/>
<line x1="174.10" y1="242.61" x2="174.10" y2="325.80" stroke="#b6e3ae" stroke-width="0.7"/>
<line x1="188.14" y1="242.61" x2="188.14" y2="325.80" stroke="#b6e3ae" stroke-width="0.7"/>
<line x1="202.18" y1="242.61" x2="202.18" y2="325.80" stroke="#b6e3ae" stroke-width="0.7"/>
<line x1="103.90" y1="298.07" x2="216.22" y2="298.07" stroke="#b6e3ae" stroke-width="0.7"/>
<line x1="103.90" y1="270.34" x2="216.22" y2="270.34" stroke="#b6e3ae" stroke-width="0.7"/>
<rect x="103.90" y="242.61" width="112.32" height="83.19" fill="none" stroke="#444" stroke-width="0.8"/>
<line x1="102.40" y1="325.80" x2="103.90" y2="325.80" stroke="#444" stroke-width="0.6"/>
<text x="101.40" y="327.60" font-size="5.2" text-anchor="end" fill="#333">0.0</text>
<line x1="102.40" y1="298.07" x2="103.90" y2="298.07" stroke="#444" stroke-width="0.6"/>
<text x="100.90" y="299.57" font-size="4.6" text-anchor="end" fill="#333">1.0x10<tspan font-size="3" dy="-2.5">-2</tspan></text>
<line x1="102.40" y1="270.34" x2="103.90" y2="270.34" stroke="#444" stroke-width="0.6"/>
<text x="100.90" y="271.84" font-size="4.6" text-anchor="end" fill="#333">2.0x10<tspan font-size="3" dy="-2.5">-2</tspan></text>
<line x1="102.40" y1="242.61" x2="103.90" y2="242.61" stroke="#444" stroke-width="0.6"/>
<text x="100.90" y="244.11" font-size="4.6" text-anchor="end" fill="#333">3.0x10<tspan font-size="3" dy="-2.5">-2</tspan></text>
<line x1="103.90" y1="325.80" x2="103.90" y2="327.30" stroke="#444" stroke-width="0.6"/>
<text x="103.90" y="333.00" font-size="5.2" text-anchor="middle" fill="#333">0.0</text>
<line x1="117.94" y1="325.80" x2="117.94" y2="327.30" stroke="#444" stroke-width="0.6"/>
<text x="117.94" y="333.00" font-size="5.2" text-anchor="middle" fill="#333">5.0k</text>
<line x1="131.98" y1="325.80" x2="131.98" y2="327.30" stroke="#444" stroke-width="0.6"/>
<text x="131.98" y="333.00" font-size="5.2" text-anchor="middle" fill="#333">10.0k</text>
<line x1="146.02" y1="325.80" x2="146.02" y2="327.30" stroke="#444" stroke-width="0.6"/>
<text x="146.02" y="333.00" font-size="5.2" text-anchor="middle" fill="#333">15.0k</text>
<line x1="160.06" y1="325.80" x2="160.06" y2="327.30" stroke="#444" stroke-width="0.6"/>
<text x="160.06" y="333.00" font-size="5.2" text-anchor="middle" fill="#333">20.0k</text>
<line x1="174.10" y1="325.80" x2="174.10" y2="327.30" stroke="#444" stroke-width="0.6"/>
<text x="174.10" y="333.00" font-size="5.2" text-anchor="middle" fill="#333">25.0k</text>
<line x1="188.14" y1="325.80" x2="188.14" y2="327.30" stroke="#444" stroke-width="0.6"/>
<text x="188.14" y="333.00" font-size="5.2" text-anchor="middle" fill="#333">30.0k</text>
<line x1="202.18" y1="325.80" x2="202.18" y2="327.30" stroke="#444" stroke-width="0.6"/>
<text x="202.18" y="333.00" font-size="5.2" text-anchor="middle" fill="#333">35.0k</text>
<line x1="216.22" y1="325.80" x2="216.22" y2="327.30" stroke="#444" stroke-width="0.6"/>
<text x="216.22" y="333.00" font-size="5.2" text-anchor="middle" fill="#333">40.0k</text>
<text x="160.00" y="342.30" font-size="7.6" text-anchor="middle" fill="#222">Thickness (um<tspan font-size="4.5" dy="-3">3</tspan><tspan dy="3">)</tspan></text>
<rect x="103.80" y="321.60" width="2.60" height="2.60" fill="#000000"/>
<rect x="106.20" y="320.90" width="2.60" height="2.60" fill="#000000"/>
<rect x="107.80" y="320.40" width="2.60" height="2.60" fill="#000000"/>
<rect x="112.90" y="317.30" width="2.60" height="2.60" fill="#000000"/>
<rect x="118.80" y="315.40" width="2.60" height="2.60" fill="#000000"/>
<rect x="128.40" y="314.40" width="2.60" height="2.60" fill="#000000"/>
<rect x="146.30" y="310.10" width="2.60" height="2.60" fill="#000000"/>
<circle cx="126.60" cy="302.40" r="1.40" fill="#e5111b"/>
<circle cx="147.60" cy="288.80" r="1.40" fill="#e5111b"/>
<circle cx="195.90" cy="264.90" r="1.40" fill="#e5111b"/>
<circle cx="204.70" cy="274.70" r="1.40" fill="#e5111b"/>
<path d="M105.10 322.92L106.78 324.60L105.10 326.28L103.42 324.60Z" fill="#33e3ef"/>
<path d="M105.80 318.12L107.48 319.80L105.80 321.48L104.12 319.80Z" fill="#33e3ef"/>
<path d="M115.40 311.72L117.08 313.40L115.40 315.08L113.72 313.40Z" fill="#33e3ef"/>
<path d="M123.00 307.42L124.68 309.10L123.00 310.78L121.32 309.10Z" fill="#33e3ef"/>
<path d="M135.70 304.52L137.38 306.20L135.70 307.88L134.02 306.20Z" fill="#33e3ef"/>
<path d="M179.90 290.62L181.58 292.30L179.90 293.98L178.22 292.30Z" fill="#33e3ef"/>
<rect x="103.90" y="243.8" width="40.1" height="17" fill="#fff" stroke="#666" stroke-width="0.6"/>
<rect x="108.80" y="245.10" width="2.20" height="2.20" fill="#000000"/>
<text x="115.40" y="247.50" font-size="3.8" fill="#333">Blank</text>
<circle cx="109.90" cy="252.05" r="1.10" fill="#e5111b"/>
<text x="115.40" y="253.35" font-size="3.8" fill="#333">100um Pattern</text>
<path d="M109.90 256.58L111.22 257.90L109.90 259.22L108.58 257.90Z" fill="#33e3ef"/>
<text x="115.40" y="259.20" font-size="3.8" fill="#333">600um Pattern</text>
<line x1="422.60" y1="236.36" x2="422.60" y2="396.20" stroke="#b6e3ae" stroke-width="0.9"/>
<line x1="495.10" y1="236.36" x2="495.10" y2="396.20" stroke="#b6e3ae" stroke-width="0.9"/>
<line x1="350.10" y1="369.56" x2="567.60" y2="369.56" stroke="#b6e3ae" stroke-width="0.9"/>
<line x1="350.10" y1="342.92" x2="567.60" y2="342.92" stroke="#b6e3ae" stroke-width="0.9"/>
<line x1="350.10" y1="316.28" x2="567.60" y2="316.28" stroke="#b6e3ae" stroke-width="0.9"/>
<line x1="350.10" y1="289.64" x2="567.60" y2="289.64" stroke="#b6e3ae" stroke-width="0.9"/>
<line x1="350.10" y1="263.00" x2="567.60" y2="263.00" stroke="#b6e3ae" stroke-width="0.9"/>
<line x1="346.60" y1="396.20" x2="350.10" y2="396.20" stroke="#3a3a3a" stroke-width="1"/>
<text x="344.60" y="399.70" font-size="10.2" text-anchor="end" fill="#222">2</text>
<line x1="346.60" y1="369.56" x2="350.10" y2="369.56" stroke="#3a3a3a" stroke-width="1"/>
<text x="344.60" y="373.06" font-size="10.2" text-anchor="end" fill="#222">4</text>
<line x1="346.60" y1="342.92" x2="350.10" y2="342.92" stroke="#3a3a3a" stroke-width="1"/>
<text x="344.60" y="346.42" font-size="10.2" text-anchor="end" fill="#222">6</text>
<line x1="346.60" y1="316.28" x2="350.10" y2="316.28" stroke="#3a3a3a" stroke-width="1"/>
<text x="344.60" y="319.78" font-size="10.2" text-anchor="end" fill="#222">8</text>
<line x1="346.60" y1="289.64" x2="350.10" y2="289.64" stroke="#3a3a3a" stroke-width="1"/>
<text x="344.60" y="293.14" font-size="10.2" text-anchor="end" fill="#222">10</text>
<line x1="346.60" y1="263.00" x2="350.10" y2="263.00" stroke="#3a3a3a" stroke-width="1"/>
<text x="344.60" y="266.50" font-size="10.2" text-anchor="end" fill="#222">12</text>
<line x1="346.60" y1="236.36" x2="350.10" y2="236.36" stroke="#3a3a3a" stroke-width="1"/>
<text x="344.60" y="239.86" font-size="10.2" text-anchor="end" fill="#222">14</text>
<line x1="350.10" y1="396.20" x2="350.10" y2="399.50" stroke="#3a3a3a" stroke-width="1"/>
<text x="350.10" y="408.90" font-size="10.2" text-anchor="middle" fill="#222">0.0</text>
<line x1="422.60" y1="396.20" x2="422.60" y2="399.50" stroke="#3a3a3a" stroke-width="1"/>
<text x="423.10" y="408.90" font-size="10.2" text-anchor="middle" fill="#222">1.0x10<tspan font-size="7" dy="-5">-2</tspan></text>
<line x1="495.10" y1="396.20" x2="495.10" y2="399.50" stroke="#3a3a3a" stroke-width="1"/>
<text x="495.60" y="408.90" font-size="10.2" text-anchor="middle" fill="#222">2.0x10<tspan font-size="7" dy="-5">-2</tspan></text>
<line x1="567.60" y1="396.20" x2="567.60" y2="399.50" stroke="#3a3a3a" stroke-width="1"/>
<text x="568.10" y="408.90" font-size="10.2" text-anchor="middle" fill="#222">3.0x10<tspan font-size="7" dy="-5">-2</tspan></text>
<text x="459.00" y="433.20" font-size="12.9" text-anchor="middle" fill="#222">Diffusion Coefficienct (cm<tspan font-size="8.4" dy="-6">2</tspan><tspan dy="6">/s)</tspan></text>
<g transform="translate(327.4,315.9) rotate(-90)"><text x="0.00" y="0.00" font-size="13.2" text-anchor="middle" fill="#222">Conversion Efficiency (%)</text></g>
<text x="305.40" y="222.90" font-size="14.2" font-weight="bold" fill="#111" textLength="19.5" lengthAdjust="spacingAndGlyphs">(d)</text>
<rect x="353.15" y="332.55" width="4.90" height="4.90" fill="#000000"/>
<rect x="357.95" y="327.15" width="4.90" height="4.90" fill="#000000"/>
<rect x="359.15" y="328.35" width="4.90" height="4.90" fill="#000000"/>
<rect x="367.85" y="327.95" width="4.90" height="4.90" fill="#000000"/>
<rect x="372.95" y="329.05" width="4.90" height="4.90" fill="#000000"/>
<rect x="374.95" y="331.45" width="4.90" height="4.90" fill="#000000"/>
<rect x="386.55" y="330.75" width="4.90" height="4.90" fill="#000000"/>
<circle cx="354.50" cy="381.00" r="2.65" fill="#e5111b"/>
<circle cx="363.00" cy="365.30" r="2.65" fill="#e5111b"/>
<circle cx="413.00" cy="358.50" r="2.65" fill="#e5111b"/>
<circle cx="448.00" cy="347.50" r="2.65" fill="#e5111b"/>
<circle cx="484.50" cy="328.50" r="2.65" fill="#e5111b"/>
<circle cx="509.50" cy="331.50" r="2.65" fill="#e5111b"/>
<path d="M354.50 366.82L357.68 370.00L354.50 373.18L351.32 370.00Z" fill="#33e3ef"/>
<path d="M366.80 348.32L369.98 351.50L366.80 354.68L363.62 351.50Z" fill="#33e3ef"/>
<path d="M382.00 325.32L385.18 328.50L382.00 331.68L378.82 328.50Z" fill="#33e3ef"/>
<path d="M394.50 325.82L397.68 329.00L394.50 332.18L391.32 329.00Z" fill="#33e3ef"/>
<path d="M402.00 324.32L405.18 327.50L402.00 330.68L398.82 327.50Z" fill="#33e3ef"/>
<path d="M438.00 330.32L441.18 333.50L438.00 336.68L434.82 333.50Z" fill="#33e3ef"/>
<circle cx="354.50" cy="346.50" r="2.50" fill="none" stroke="#d42020" stroke-width="1.05"/>
<circle cx="363.00" cy="319.50" r="2.50" fill="none" stroke="#d42020" stroke-width="1.05"/>
<circle cx="413.00" cy="306.50" r="2.50" fill="none" stroke="#d42020" stroke-width="1.05"/>
<circle cx="448.00" cy="287.50" r="2.50" fill="none" stroke="#d42020" stroke-width="1.05"/>
<circle cx="484.50" cy="252.50" r="2.50" fill="none" stroke="#d42020" stroke-width="1.05"/>
<circle cx="509.50" cy="259.00" r="2.50" fill="none" stroke="#d42020" stroke-width="1.05"/>
<path d="M354.50 355.14L357.86 358.50L354.50 361.86L351.14 358.50Z" fill="none" stroke="#30d8ee" stroke-width="1.1"/>
<path d="M366.80 332.84L370.16 336.20L366.80 339.56L363.44 336.20Z" fill="none" stroke="#30d8ee" stroke-width="1.1"/>
<path d="M382.00 304.14L385.36 307.50L382.00 310.86L378.64 307.50Z" fill="none" stroke="#30d8ee" stroke-width="1.1"/>
<path d="M394.50 305.14L397.86 308.50L394.50 311.86L391.14 308.50Z" fill="none" stroke="#30d8ee" stroke-width="1.1"/>
<path d="M402.00 303.14L405.36 306.50L402.00 309.86L398.64 306.50Z" fill="none" stroke="#30d8ee" stroke-width="1.1"/>
<path d="M438.00 310.64L441.36 314.00L438.00 317.36L434.64 314.00Z" fill="none" stroke="#30d8ee" stroke-width="1.1"/>
<rect x="350.10" y="236.36" width="217.50" height="159.84" fill="none" stroke="#3a3a3a" stroke-width="1.1"/>
<rect x="496.7" y="337.9" width="69.6" height="58.30" fill="#fff" stroke="#777" stroke-width="0.9"/>
<rect x="504.75" y="342.15" width="4.50" height="4.50" fill="#000000"/>
<text x="515.10" y="346.60" font-size="6.2" fill="#222">Blank</text>
<circle cx="507.00" cy="352.10" r="2.25" fill="#e5111b"/>
<text x="515.10" y="354.30" font-size="6.2" fill="#222">100um Pattern</text>
<path d="M507.00 356.90L509.70 359.60L507.00 362.30L504.30 359.60Z" fill="#33e3ef"/>
<text x="515.10" y="361.80" font-size="6.2" fill="#222">600um Pattern</text>
<circle cx="507.00" cy="367.20" r="2.25" fill="none" stroke="#d42020" stroke-width="1.0"/>
<text x="515.10" y="369.40" font-size="6.2" fill="#222">100um Pattern</text>
<text x="515.10" y="376.70" font-size="6.2" fill="#222">(Normalized Area)</text>
<path d="M507.00 379.40L509.70 382.10L507.00 384.80L504.30 382.10Z" fill="none" stroke="#30d8ee" stroke-width="1.0"/>
<text x="515.10" y="384.30" font-size="6.2" fill="#222">100um Pattern</text>
<text x="515.10" y="391.70" font-size="6.2" fill="#222">(Normalized Area)</text>
<defs>
<pattern id="peach" patternUnits="userSpaceOnUse" width="3.95" height="8" x="63.8" y="0">
<rect width="3.95" height="8" fill="#f5e8dc"/>
<rect x="0.3" width="1.8" height="8" fill="#dfbda3"/>
</pattern>
<pattern id="pink" patternUnits="userSpaceOnUse" width="3.6" height="8" x="347" y="0">
<rect width="3.6" height="8" fill="#f0d3d7"/>
<rect x="0.3" width="1.8" height="8" fill="#d8979f"/>
</pattern>
<radialGradient id="gsph" cx="159.5" cy="527" r="73.5" gradientUnits="userSpaceOnUse">
<stop offset="0" stop-color="#a2a2a2" stop-opacity="0.96"/>
<stop offset="0.3" stop-color="#c6c6c6" stop-opacity="0.86"/>
<stop offset="0.62" stop-color="#e6e6e6" stop-opacity="0.76"/>
<stop offset="1" stop-color="#f5f5f5" stop-opacity="0.7"/>
</radialGradient>
<radialGradient id="gell" cx="443" cy="534" r="82" gradientUnits="userSpaceOnUse" gradientTransform="translate(443 534) scale(1 0.85) translate(-443 -534)">
<stop offset="0" stop-color="#7fcc5a" stop-opacity="0.96"/>
<stop offset="0.2" stop-color="#a2d988" stop-opacity="0.88"/>
<stop offset="0.45" stop-color="#d3ecc7" stop-opacity="0.76"/>
<stop offset="0.75" stop-color="#f1f8ed" stop-opacity="0.66"/>
<stop offset="1" stop-color="#fbfdfa" stop-opacity="0.6"/>
</radialGradient>
<linearGradient id="sub" x1="0" y1="0" x2="0" y2="1">
<stop offset="0" stop-color="#bcd5ee"/><stop offset="1" stop-color="#b4cfeb"/>
</linearGradient>
<marker id="ah" viewBox="0 0 10 10" refX="6" refY="5" markerWidth="3.4" markerHeight="3.4" orient="auto"><path d="M0 0L10 5L0 10L2.5 5Z" fill="#c81e24"/></marker>
<marker id="bh" viewBox="0 0 10 10" refX="8" refY="5" markerWidth="5.2" markerHeight="5.2" orient="auto"><path d="M0 0.5L10 5L0 9.5Z" fill="#5b9bd5"/></marker>
</defs>
<text x="27.50" y="460.00" font-size="14.2" font-weight="bold" fill="#111" textLength="18.7" lengthAdjust="spacingAndGlyphs">(e)</text>
<rect x="63.8" y="528" width="193.2" height="105" fill="url(#peach)"/>
<rect x="50" y="634.4" width="225" height="16.6" fill="#aab" opacity="0.35"/>
<rect x="49" y="633.2" width="224.5" height="16.7" fill="url(#sub)" stroke="#7391b5" stroke-width="1"/>
<circle cx="159.5" cy="534.5" r="73.5" fill="url(#gsph)" stroke="#c8c8c8" stroke-width="0.6" stroke-dasharray="1 1"/>
<path d="M278 499 L224.4 499 L224.4 533.2 L171 534.3" fill="none" stroke="#b9c6d3" stroke-width="0.8" marker-end="url(#bh)"/>
<path d="M77 540.5 C 82 536, 88 535.4, 95 535.4 L 119.7 535.7 C 128 536.2, 132 537, 135 540.5 C 138 545, 140 547.3, 144.5 547.6" fill="none" stroke="#b9c6d3" stroke-width="0.8" marker-end="url(#bh)"/>
<path d="M161.6 533.4 A1.8 1.8 0 1 1 165 533.9 L163.2 537 Z" fill="#c81e24"/>
<path d="M163.2 535.5 L160.7 542.8 L157.6 547.3 L150.5 549.3 L147.9 552.9 L146 558" fill="none" stroke="#c81e24" stroke-width="1.3" stroke-dasharray="3 2.2" marker-end="url(#ah)"/>
<text x="30.20" y="559.20" font-size="12.3" font-weight="bold" fill="#1a1a1a" stroke="#1a1a1a" stroke-width="0.15" textLength="88.6" lengthAdjust="spacingAndGlyphs">Electron random</text>
<text x="41.10" y="572.40" font-size="12.3" font-weight="bold" fill="#1a1a1a" stroke="#1a1a1a" stroke-width="0.15" textLength="66.8" lengthAdjust="spacingAndGlyphs">walk motion</text>
<text x="182.30" y="598.00" font-size="12.3" font-weight="bold" fill="#1a1a1a" stroke="#1a1a1a" stroke-width="0.15" textLength="106.5" lengthAdjust="spacingAndGlyphs">Electron destination</text>
<text x="187.30" y="610.30" font-size="12.3" font-weight="bold" fill="#1a1a1a" stroke="#1a1a1a" stroke-width="0.15" textLength="95.8" lengthAdjust="spacingAndGlyphs">probability sphere</text>
<text x="282.10" y="497.30" font-size="12.3" font-weight="bold" fill="#1a1a1a" stroke="#1a1a1a" stroke-width="0.15" textLength="56.2" lengthAdjust="spacingAndGlyphs">Generated</text>
<text x="290.80" y="509.30" font-size="12.3" font-weight="bold" fill="#1a1a1a" stroke="#1a1a1a" stroke-width="0.15" textLength="44" lengthAdjust="spacingAndGlyphs">electron</text>
<text x="95.20" y="681.00" font-size="15.6" font-weight="bold" font-style="italic" fill="#111" stroke="#111" stroke-width="0.12" textLength="129.5" lengthAdjust="spacingAndGlyphs">Uniform Electrode</text>
<path d="M346.8 630.7 A94.6 100 0 0 1 536 630.7 Z" fill="url(#pink)" stroke="#f2c77a" stroke-width="1"/>
<rect x="326.3" y="633.3" width="224.5" height="17" fill="#aab" opacity="0.35"/>
<rect x="325.3" y="632.3" width="224.4" height="17.2" fill="url(#sub)" stroke="#7391b5" stroke-width="0.9"/>
<ellipse cx="441.8" cy="540.8" rx="50.7" ry="90.6" fill="url(#gell)" stroke="#c8d0c0" stroke-width="0.6" stroke-dasharray="1 1"/>
<path d="M347.2 499.9 L394 499.9 L394 538.7 L440.5 538.7" fill="none" stroke="#b9c6d3" stroke-width="0.8" marker-end="url(#bh)"/>
<path d="M524.8 582.7 L524.8 571.4 L482.5 571.4" fill="none" stroke="#b9c6d3" stroke-width="0.8" marker-end="url(#bh)"/>
<path d="M443.2 539.3 A1.8 1.8 0 1 1 446.6 539.8 L444.8 542.8 Z" fill="#c81e24"/>
<path d="M444.6 541 L444.3 543.6 L442.5 548.9 L439.1 553.7 L433 555.7 L428.9 560.5 L427.4 564.5" fill="none" stroke="#c81e24" stroke-width="1.3" stroke-dasharray="3 2.2" marker-end="url(#ah)"/>
<path d="M459 538.2 Q 470 540.5, 482.5 545" fill="none" stroke="#c81e24" stroke-width="1.3" stroke-dasharray="3 2.2" marker-end="url(#ah)"/>
<path d="M488.3 548.9 L470 574" fill="none" stroke="#c81e24" stroke-width="1.3" stroke-dasharray="3 2.2" marker-end="url(#ah)"/>
<text x="451.70" y="481.00" font-size="12.3" font-weight="bold" fill="#1a1a1a" stroke="#1a1a1a" stroke-width="0.15" textLength="106.5" lengthAdjust="spacingAndGlyphs">Electron destination</text>
<text x="451.60" y="493.40" font-size="12.3" font-weight="bold" fill="#1a1a1a" stroke="#1a1a1a" stroke-width="0.15" textLength="106.4" lengthAdjust="spacingAndGlyphs">probability ellipsoid</text>
<text x="475.90" y="610.30" font-size="12.3" font-weight="bold" fill="#1a1a1a" stroke="#1a1a1a" stroke-width="0.15" textLength="97.7" lengthAdjust="spacingAndGlyphs">Electron reflection</text>
<text x="497.60" y="623.00" font-size="12.3" font-weight="bold" fill="#1a1a1a" stroke="#1a1a1a" stroke-width="0.15" textLength="54.6" lengthAdjust="spacingAndGlyphs">At surface</text>
<text x="377.60" y="679.80" font-size="15.6" font-weight="bold" font-style="italic" fill="#111" stroke="#111" stroke-width="0.12" textLength="141.5" lengthAdjust="spacingAndGlyphs">Patterned Electrode</text>
</svg></body></html>
